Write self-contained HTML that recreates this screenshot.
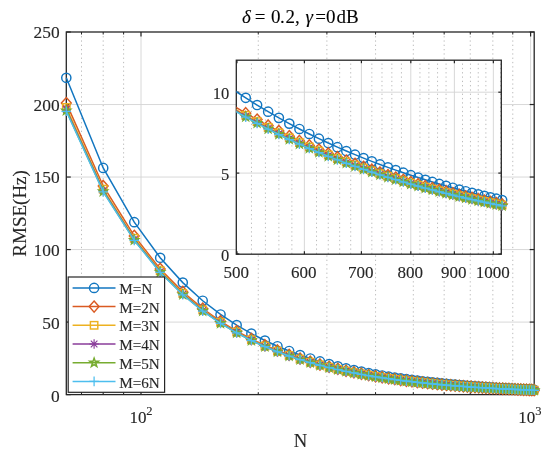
<!DOCTYPE html>
<html><head><meta charset="utf-8"><style>
html,body{margin:0;padding:0;background:#fff;width:550px;height:457px;overflow:hidden}
svg{display:block;filter:blur(0.45px)}
text{stroke:#262626;stroke-width:0.12px}
</style></head><body>
<svg width="550" height="457" viewBox="0 0 550 457">
<defs><clipPath id="cm"><rect x="0" y="0" width="550" height="457"/></clipPath>
<clipPath id="ci"><rect x="236.3" y="60.2" width="265.0" height="194.0"/></clipPath></defs>
<rect width="550" height="457" fill="#fff"/>
<line x1="81.5" y1="32" x2="81.5" y2="394.6" stroke="#b4b4b4" stroke-width="0.9" stroke-dasharray="1.3 3" stroke-dashoffset="0.2"/>
<line x1="103.2" y1="32" x2="103.2" y2="394.6" stroke="#b4b4b4" stroke-width="0.9" stroke-dasharray="1.3 3" stroke-dashoffset="0.2"/>
<line x1="123.6" y1="32" x2="123.6" y2="394.6" stroke="#b4b4b4" stroke-width="0.9" stroke-dasharray="1.3 3" stroke-dashoffset="0.2"/>
<line x1="258.28" y1="32" x2="258.28" y2="394.6" stroke="#b4b4b4" stroke-width="0.9" stroke-dasharray="1.3 3" stroke-dashoffset="0.2"/>
<line x1="326.89" y1="32" x2="326.89" y2="394.6" stroke="#b4b4b4" stroke-width="0.9" stroke-dasharray="1.3 3" stroke-dashoffset="0.2"/>
<line x1="375.56" y1="32" x2="375.56" y2="394.6" stroke="#b4b4b4" stroke-width="0.9" stroke-dasharray="1.3 3" stroke-dashoffset="0.2"/>
<line x1="413.32" y1="32" x2="413.32" y2="394.6" stroke="#b4b4b4" stroke-width="0.9" stroke-dasharray="1.3 3" stroke-dashoffset="0.2"/>
<line x1="444.17" y1="32" x2="444.17" y2="394.6" stroke="#b4b4b4" stroke-width="0.9" stroke-dasharray="1.3 3" stroke-dashoffset="0.2"/>
<line x1="470.25" y1="32" x2="470.25" y2="394.6" stroke="#b4b4b4" stroke-width="0.9" stroke-dasharray="1.3 3" stroke-dashoffset="0.2"/>
<line x1="492.84" y1="32" x2="492.84" y2="394.6" stroke="#b4b4b4" stroke-width="0.9" stroke-dasharray="1.3 3" stroke-dashoffset="0.2"/>
<line x1="512.77" y1="32" x2="512.77" y2="394.6" stroke="#b4b4b4" stroke-width="0.9" stroke-dasharray="1.3 3" stroke-dashoffset="0.2"/>
<line x1="141" y1="32" x2="141" y2="394.6" stroke="#d4d4d4" stroke-width="0.9"/>
<line x1="530.6" y1="32" x2="530.6" y2="394.6" stroke="#d4d4d4" stroke-width="0.9"/>
<line x1="66.3" y1="322.08" x2="534.2" y2="322.08" stroke="#d4d4d4" stroke-width="0.9"/>
<line x1="66.3" y1="249.56" x2="534.2" y2="249.56" stroke="#d4d4d4" stroke-width="0.9"/>
<line x1="66.3" y1="177.04" x2="534.2" y2="177.04" stroke="#d4d4d4" stroke-width="0.9"/>
<line x1="66.3" y1="104.52" x2="534.2" y2="104.52" stroke="#d4d4d4" stroke-width="0.9"/>
<rect x="66.3" y="32" width="467.9" height="362.6" fill="none" stroke="#262626" stroke-width="1.3"/>
<line x1="66.3" y1="394.6" x2="70.8" y2="394.6" stroke="#262626" stroke-width="1.2"/>
<line x1="534.2" y1="394.6" x2="529.7" y2="394.6" stroke="#262626" stroke-width="1.2"/>
<line x1="66.3" y1="322.08" x2="70.8" y2="322.08" stroke="#262626" stroke-width="1.2"/>
<line x1="534.2" y1="322.08" x2="529.7" y2="322.08" stroke="#262626" stroke-width="1.2"/>
<line x1="66.3" y1="249.56" x2="70.8" y2="249.56" stroke="#262626" stroke-width="1.2"/>
<line x1="534.2" y1="249.56" x2="529.7" y2="249.56" stroke="#262626" stroke-width="1.2"/>
<line x1="66.3" y1="177.04" x2="70.8" y2="177.04" stroke="#262626" stroke-width="1.2"/>
<line x1="534.2" y1="177.04" x2="529.7" y2="177.04" stroke="#262626" stroke-width="1.2"/>
<line x1="66.3" y1="104.52" x2="70.8" y2="104.52" stroke="#262626" stroke-width="1.2"/>
<line x1="534.2" y1="104.52" x2="529.7" y2="104.52" stroke="#262626" stroke-width="1.2"/>
<line x1="66.3" y1="32" x2="70.8" y2="32" stroke="#262626" stroke-width="1.2"/>
<line x1="534.2" y1="32" x2="529.7" y2="32" stroke="#262626" stroke-width="1.2"/>
<line x1="141" y1="394.6" x2="141" y2="390.1" stroke="#262626" stroke-width="1.2"/>
<line x1="141" y1="32" x2="141" y2="36.5" stroke="#262626" stroke-width="1.2"/>
<line x1="530.6" y1="394.6" x2="530.6" y2="390.1" stroke="#262626" stroke-width="1.2"/>
<line x1="530.6" y1="32" x2="530.6" y2="36.5" stroke="#262626" stroke-width="1.2"/>
<line x1="81.5" y1="394.6" x2="81.5" y2="392.1" stroke="#262626" stroke-width="1"/>
<line x1="81.5" y1="32" x2="81.5" y2="34.5" stroke="#262626" stroke-width="1"/>
<line x1="103.2" y1="394.6" x2="103.2" y2="392.1" stroke="#262626" stroke-width="1"/>
<line x1="103.2" y1="32" x2="103.2" y2="34.5" stroke="#262626" stroke-width="1"/>
<line x1="123.6" y1="394.6" x2="123.6" y2="392.1" stroke="#262626" stroke-width="1"/>
<line x1="123.6" y1="32" x2="123.6" y2="34.5" stroke="#262626" stroke-width="1"/>
<line x1="258.28" y1="394.6" x2="258.28" y2="392.1" stroke="#262626" stroke-width="1"/>
<line x1="258.28" y1="32" x2="258.28" y2="34.5" stroke="#262626" stroke-width="1"/>
<line x1="326.89" y1="394.6" x2="326.89" y2="392.1" stroke="#262626" stroke-width="1"/>
<line x1="326.89" y1="32" x2="326.89" y2="34.5" stroke="#262626" stroke-width="1"/>
<line x1="375.56" y1="394.6" x2="375.56" y2="392.1" stroke="#262626" stroke-width="1"/>
<line x1="375.56" y1="32" x2="375.56" y2="34.5" stroke="#262626" stroke-width="1"/>
<line x1="413.32" y1="394.6" x2="413.32" y2="392.1" stroke="#262626" stroke-width="1"/>
<line x1="413.32" y1="32" x2="413.32" y2="34.5" stroke="#262626" stroke-width="1"/>
<line x1="444.17" y1="394.6" x2="444.17" y2="392.1" stroke="#262626" stroke-width="1"/>
<line x1="444.17" y1="32" x2="444.17" y2="34.5" stroke="#262626" stroke-width="1"/>
<line x1="470.25" y1="394.6" x2="470.25" y2="392.1" stroke="#262626" stroke-width="1"/>
<line x1="470.25" y1="32" x2="470.25" y2="34.5" stroke="#262626" stroke-width="1"/>
<line x1="492.84" y1="394.6" x2="492.84" y2="392.1" stroke="#262626" stroke-width="1"/>
<line x1="492.84" y1="32" x2="492.84" y2="34.5" stroke="#262626" stroke-width="1"/>
<line x1="512.77" y1="394.6" x2="512.77" y2="392.1" stroke="#262626" stroke-width="1"/>
<line x1="512.77" y1="32" x2="512.77" y2="34.5" stroke="#262626" stroke-width="1"/>
<polyline points="66.3,77.83 103.2,167.94 134.26,222.17 160.18,257.77 182.77,282.61 202.7,300.74 220.53,314.46 236.65,325.14 251.37,333.64 264.92,340.54 277.46,346.22 289.13,350.98 300.05,355 310.31,358.45 319.98,361.42 329.13,364 337.81,366.27 346.06,368.27 353.93,370.04 361.45,371.63 368.66,373.05 375.56,374.33 382.2,375.49 388.58,376.54 394.74,377.5 400.68,378.37 406.41,379.18 411.96,379.92 417.33,380.6 422.54,381.25 427.59,381.84 432.49,382.4 437.26,382.91 441.9,383.39 446.41,383.84 450.8,384.26 455.09,384.65 459.27,385.02 463.34,385.37 467.32,385.7 471.21,386.01 475.02,386.3 478.74,386.57 482.37,386.83 485.94,387.08 489.43,387.31 492.84,387.53 496.19,387.75 499.48,387.95 502.7,388.14 505.87,388.32 508.97,388.49 512.02,388.66 515.01,388.82 517.96,388.97 520.85,389.12 523.69,389.26 526.49,389.39 529.24,389.52 531.81,389.64 534.2,389.76" fill="none" stroke="#1276C0" stroke-width="1.5"/>
<circle cx="66.3" cy="77.83" r="4.6" fill="none" stroke="#1276C0" stroke-width="1.45"/>
<circle cx="103.2" cy="167.94" r="4.6" fill="none" stroke="#1276C0" stroke-width="1.45"/>
<circle cx="134.26" cy="222.17" r="4.6" fill="none" stroke="#1276C0" stroke-width="1.45"/>
<circle cx="160.18" cy="257.77" r="4.6" fill="none" stroke="#1276C0" stroke-width="1.45"/>
<circle cx="182.77" cy="282.61" r="4.6" fill="none" stroke="#1276C0" stroke-width="1.45"/>
<circle cx="202.7" cy="300.74" r="4.6" fill="none" stroke="#1276C0" stroke-width="1.45"/>
<circle cx="220.53" cy="314.46" r="4.6" fill="none" stroke="#1276C0" stroke-width="1.45"/>
<circle cx="236.65" cy="325.14" r="4.6" fill="none" stroke="#1276C0" stroke-width="1.45"/>
<circle cx="251.37" cy="333.64" r="4.6" fill="none" stroke="#1276C0" stroke-width="1.45"/>
<circle cx="264.92" cy="340.54" r="4.6" fill="none" stroke="#1276C0" stroke-width="1.45"/>
<circle cx="277.46" cy="346.22" r="4.6" fill="none" stroke="#1276C0" stroke-width="1.45"/>
<circle cx="289.13" cy="350.98" r="4.6" fill="none" stroke="#1276C0" stroke-width="1.45"/>
<circle cx="300.05" cy="355" r="4.6" fill="none" stroke="#1276C0" stroke-width="1.45"/>
<circle cx="310.31" cy="358.45" r="4.6" fill="none" stroke="#1276C0" stroke-width="1.45"/>
<circle cx="319.98" cy="361.42" r="4.6" fill="none" stroke="#1276C0" stroke-width="1.45"/>
<circle cx="329.13" cy="364" r="4.6" fill="none" stroke="#1276C0" stroke-width="1.45"/>
<circle cx="337.81" cy="366.27" r="4.6" fill="none" stroke="#1276C0" stroke-width="1.45"/>
<circle cx="346.06" cy="368.27" r="4.6" fill="none" stroke="#1276C0" stroke-width="1.45"/>
<circle cx="353.93" cy="370.04" r="4.6" fill="none" stroke="#1276C0" stroke-width="1.45"/>
<circle cx="361.45" cy="371.63" r="4.6" fill="none" stroke="#1276C0" stroke-width="1.45"/>
<circle cx="368.66" cy="373.05" r="4.6" fill="none" stroke="#1276C0" stroke-width="1.45"/>
<circle cx="375.56" cy="374.33" r="4.6" fill="none" stroke="#1276C0" stroke-width="1.45"/>
<circle cx="382.2" cy="375.49" r="4.6" fill="none" stroke="#1276C0" stroke-width="1.45"/>
<circle cx="388.58" cy="376.54" r="4.6" fill="none" stroke="#1276C0" stroke-width="1.45"/>
<circle cx="394.74" cy="377.5" r="4.6" fill="none" stroke="#1276C0" stroke-width="1.45"/>
<circle cx="400.68" cy="378.37" r="4.6" fill="none" stroke="#1276C0" stroke-width="1.45"/>
<circle cx="406.41" cy="379.18" r="4.6" fill="none" stroke="#1276C0" stroke-width="1.45"/>
<circle cx="411.96" cy="379.92" r="4.6" fill="none" stroke="#1276C0" stroke-width="1.45"/>
<circle cx="417.33" cy="380.6" r="4.6" fill="none" stroke="#1276C0" stroke-width="1.45"/>
<circle cx="422.54" cy="381.25" r="4.6" fill="none" stroke="#1276C0" stroke-width="1.45"/>
<circle cx="427.59" cy="381.84" r="4.6" fill="none" stroke="#1276C0" stroke-width="1.45"/>
<circle cx="432.49" cy="382.4" r="4.6" fill="none" stroke="#1276C0" stroke-width="1.45"/>
<circle cx="437.26" cy="382.91" r="4.6" fill="none" stroke="#1276C0" stroke-width="1.45"/>
<circle cx="441.9" cy="383.39" r="4.6" fill="none" stroke="#1276C0" stroke-width="1.45"/>
<circle cx="446.41" cy="383.84" r="4.6" fill="none" stroke="#1276C0" stroke-width="1.45"/>
<circle cx="450.8" cy="384.26" r="4.6" fill="none" stroke="#1276C0" stroke-width="1.45"/>
<circle cx="455.09" cy="384.65" r="4.6" fill="none" stroke="#1276C0" stroke-width="1.45"/>
<circle cx="459.27" cy="385.02" r="4.6" fill="none" stroke="#1276C0" stroke-width="1.45"/>
<circle cx="463.34" cy="385.37" r="4.6" fill="none" stroke="#1276C0" stroke-width="1.45"/>
<circle cx="467.32" cy="385.7" r="4.6" fill="none" stroke="#1276C0" stroke-width="1.45"/>
<circle cx="471.21" cy="386.01" r="4.6" fill="none" stroke="#1276C0" stroke-width="1.45"/>
<circle cx="475.02" cy="386.3" r="4.6" fill="none" stroke="#1276C0" stroke-width="1.45"/>
<circle cx="478.74" cy="386.57" r="4.6" fill="none" stroke="#1276C0" stroke-width="1.45"/>
<circle cx="482.37" cy="386.83" r="4.6" fill="none" stroke="#1276C0" stroke-width="1.45"/>
<circle cx="485.94" cy="387.08" r="4.6" fill="none" stroke="#1276C0" stroke-width="1.45"/>
<circle cx="489.43" cy="387.31" r="4.6" fill="none" stroke="#1276C0" stroke-width="1.45"/>
<circle cx="492.84" cy="387.53" r="4.6" fill="none" stroke="#1276C0" stroke-width="1.45"/>
<circle cx="496.19" cy="387.75" r="4.6" fill="none" stroke="#1276C0" stroke-width="1.45"/>
<circle cx="499.48" cy="387.95" r="4.6" fill="none" stroke="#1276C0" stroke-width="1.45"/>
<circle cx="502.7" cy="388.14" r="4.6" fill="none" stroke="#1276C0" stroke-width="1.45"/>
<circle cx="505.87" cy="388.32" r="4.6" fill="none" stroke="#1276C0" stroke-width="1.45"/>
<circle cx="508.97" cy="388.49" r="4.6" fill="none" stroke="#1276C0" stroke-width="1.45"/>
<circle cx="512.02" cy="388.66" r="4.6" fill="none" stroke="#1276C0" stroke-width="1.45"/>
<circle cx="515.01" cy="388.82" r="4.6" fill="none" stroke="#1276C0" stroke-width="1.45"/>
<circle cx="517.96" cy="388.97" r="4.6" fill="none" stroke="#1276C0" stroke-width="1.45"/>
<circle cx="520.85" cy="389.12" r="4.6" fill="none" stroke="#1276C0" stroke-width="1.45"/>
<circle cx="523.69" cy="389.26" r="4.6" fill="none" stroke="#1276C0" stroke-width="1.45"/>
<circle cx="526.49" cy="389.39" r="4.6" fill="none" stroke="#1276C0" stroke-width="1.45"/>
<circle cx="529.24" cy="389.52" r="4.6" fill="none" stroke="#1276C0" stroke-width="1.45"/>
<circle cx="531.81" cy="389.64" r="4.6" fill="none" stroke="#1276C0" stroke-width="1.45"/>
<circle cx="534.2" cy="389.76" r="4.6" fill="none" stroke="#1276C0" stroke-width="1.45"/>
<polyline points="66.3,103.08 103.2,186.01 134.26,235.92 160.18,268.91 182.77,291.89 202.7,308.65 220.53,321.31 236.65,331.15 251.37,338.97 264.92,345.31 277.46,350.54 289.13,354.9 300.05,358.6 310.31,361.75 319.98,364.47 329.13,366.84 337.81,368.91 346.06,370.74 353.93,372.36 361.45,373.8 368.66,375.1 375.56,376.27 382.2,377.32 388.58,378.28 394.74,379.16 400.68,379.95 406.41,380.69 411.96,381.36 417.33,381.98 422.54,382.55 427.59,383.09 432.49,383.58 437.26,384.04 441.9,384.47 446.41,384.87 450.8,385.24 455.09,385.59 459.27,385.92 463.34,386.23 467.32,386.52 471.21,386.79 475.02,387.05 478.74,387.3 482.37,387.53 485.94,387.75 489.43,387.96 492.84,388.16 496.19,388.34 499.48,388.52 502.7,388.7 505.87,388.86 508.97,389.01 512.02,389.16 515.01,389.31 517.96,389.44 520.85,389.57 523.69,389.7 526.49,389.82 529.24,389.93 531.81,390.04 534.2,390.15" fill="none" stroke="#DA5A22" stroke-width="1.5"/>
<path d="M66.3 97.48L71.23 103.08L66.3 108.68L61.37 103.08Z" fill="none" stroke="#DA5A22" stroke-width="1.45"/>
<path d="M103.2 180.41L108.13 186.01L103.2 191.61L98.27 186.01Z" fill="none" stroke="#DA5A22" stroke-width="1.45"/>
<path d="M134.26 230.32L139.19 235.92L134.26 241.52L129.33 235.92Z" fill="none" stroke="#DA5A22" stroke-width="1.45"/>
<path d="M160.18 263.31L165.1 268.91L160.18 274.51L155.25 268.91Z" fill="none" stroke="#DA5A22" stroke-width="1.45"/>
<path d="M182.77 286.29L187.7 291.89L182.77 297.49L177.84 291.89Z" fill="none" stroke="#DA5A22" stroke-width="1.45"/>
<path d="M202.7 303.05L207.63 308.65L202.7 314.25L197.77 308.65Z" fill="none" stroke="#DA5A22" stroke-width="1.45"/>
<path d="M220.53 315.71L225.45 321.31L220.53 326.91L215.6 321.31Z" fill="none" stroke="#DA5A22" stroke-width="1.45"/>
<path d="M236.65 325.55L241.58 331.15L236.65 336.75L231.72 331.15Z" fill="none" stroke="#DA5A22" stroke-width="1.45"/>
<path d="M251.37 333.37L256.3 338.97L251.37 344.57L246.45 338.97Z" fill="none" stroke="#DA5A22" stroke-width="1.45"/>
<path d="M264.92 339.71L269.85 345.31L264.92 350.91L259.99 345.31Z" fill="none" stroke="#DA5A22" stroke-width="1.45"/>
<path d="M277.46 344.94L282.38 350.54L277.46 356.14L272.53 350.54Z" fill="none" stroke="#DA5A22" stroke-width="1.45"/>
<path d="M289.13 349.3L294.06 354.9L289.13 360.5L284.2 354.9Z" fill="none" stroke="#DA5A22" stroke-width="1.45"/>
<path d="M300.05 353L304.98 358.6L300.05 364.2L295.12 358.6Z" fill="none" stroke="#DA5A22" stroke-width="1.45"/>
<path d="M310.31 356.15L315.24 361.75L310.31 367.35L305.38 361.75Z" fill="none" stroke="#DA5A22" stroke-width="1.45"/>
<path d="M319.98 358.87L324.91 364.47L319.98 370.07L315.05 364.47Z" fill="none" stroke="#DA5A22" stroke-width="1.45"/>
<path d="M329.13 361.24L334.06 366.84L329.13 372.44L324.2 366.84Z" fill="none" stroke="#DA5A22" stroke-width="1.45"/>
<path d="M337.81 363.31L342.73 368.91L337.81 374.51L332.88 368.91Z" fill="none" stroke="#DA5A22" stroke-width="1.45"/>
<path d="M346.06 365.14L350.99 370.74L346.06 376.34L341.13 370.74Z" fill="none" stroke="#DA5A22" stroke-width="1.45"/>
<path d="M353.93 366.76L358.86 372.36L353.93 377.96L349.01 372.36Z" fill="none" stroke="#DA5A22" stroke-width="1.45"/>
<path d="M361.45 368.2L366.38 373.8L361.45 379.4L356.53 373.8Z" fill="none" stroke="#DA5A22" stroke-width="1.45"/>
<path d="M368.66 369.5L373.58 375.1L368.66 380.7L363.73 375.1Z" fill="none" stroke="#DA5A22" stroke-width="1.45"/>
<path d="M375.56 370.67L380.49 376.27L375.56 381.87L370.63 376.27Z" fill="none" stroke="#DA5A22" stroke-width="1.45"/>
<path d="M382.2 371.72L387.13 377.32L382.2 382.92L377.27 377.32Z" fill="none" stroke="#DA5A22" stroke-width="1.45"/>
<path d="M388.58 372.68L393.51 378.28L388.58 383.88L383.66 378.28Z" fill="none" stroke="#DA5A22" stroke-width="1.45"/>
<path d="M394.74 373.56L399.67 379.16L394.74 384.76L389.81 379.16Z" fill="none" stroke="#DA5A22" stroke-width="1.45"/>
<path d="M400.68 374.35L405.6 379.95L400.68 385.55L395.75 379.95Z" fill="none" stroke="#DA5A22" stroke-width="1.45"/>
<path d="M406.41 375.09L411.34 380.69L406.41 386.29L401.48 380.69Z" fill="none" stroke="#DA5A22" stroke-width="1.45"/>
<path d="M411.96 375.76L416.89 381.36L411.96 386.96L407.03 381.36Z" fill="none" stroke="#DA5A22" stroke-width="1.45"/>
<path d="M417.33 376.38L422.26 381.98L417.33 387.58L412.4 381.98Z" fill="none" stroke="#DA5A22" stroke-width="1.45"/>
<path d="M422.54 376.95L427.47 382.55L422.54 388.15L417.61 382.55Z" fill="none" stroke="#DA5A22" stroke-width="1.45"/>
<path d="M427.59 377.49L432.52 383.09L427.59 388.69L422.66 383.09Z" fill="none" stroke="#DA5A22" stroke-width="1.45"/>
<path d="M432.49 377.98L437.42 383.58L432.49 389.18L427.57 383.58Z" fill="none" stroke="#DA5A22" stroke-width="1.45"/>
<path d="M437.26 378.44L442.19 384.04L437.26 389.64L432.33 384.04Z" fill="none" stroke="#DA5A22" stroke-width="1.45"/>
<path d="M441.9 378.87L446.82 384.47L441.9 390.07L436.97 384.47Z" fill="none" stroke="#DA5A22" stroke-width="1.45"/>
<path d="M446.41 379.27L451.34 384.87L446.41 390.47L441.48 384.87Z" fill="none" stroke="#DA5A22" stroke-width="1.45"/>
<path d="M450.8 379.64L455.73 385.24L450.8 390.84L445.88 385.24Z" fill="none" stroke="#DA5A22" stroke-width="1.45"/>
<path d="M455.09 379.99L460.02 385.59L455.09 391.19L450.16 385.59Z" fill="none" stroke="#DA5A22" stroke-width="1.45"/>
<path d="M459.27 380.32L464.19 385.92L459.27 391.52L454.34 385.92Z" fill="none" stroke="#DA5A22" stroke-width="1.45"/>
<path d="M463.34 380.63L468.27 386.23L463.34 391.83L458.42 386.23Z" fill="none" stroke="#DA5A22" stroke-width="1.45"/>
<path d="M467.32 380.92L472.25 386.52L467.32 392.12L462.4 386.52Z" fill="none" stroke="#DA5A22" stroke-width="1.45"/>
<path d="M471.21 381.19L476.14 386.79L471.21 392.39L466.29 386.79Z" fill="none" stroke="#DA5A22" stroke-width="1.45"/>
<path d="M475.02 381.45L479.94 387.05L475.02 392.65L470.09 387.05Z" fill="none" stroke="#DA5A22" stroke-width="1.45"/>
<path d="M478.74 381.7L483.66 387.3L478.74 392.9L473.81 387.3Z" fill="none" stroke="#DA5A22" stroke-width="1.45"/>
<path d="M482.37 381.93L487.3 387.53L482.37 393.13L477.45 387.53Z" fill="none" stroke="#DA5A22" stroke-width="1.45"/>
<path d="M485.94 382.15L490.86 387.75L485.94 393.35L481.01 387.75Z" fill="none" stroke="#DA5A22" stroke-width="1.45"/>
<path d="M489.43 382.36L494.35 387.96L489.43 393.56L484.5 387.96Z" fill="none" stroke="#DA5A22" stroke-width="1.45"/>
<path d="M492.84 382.56L497.77 388.16L492.84 393.76L487.92 388.16Z" fill="none" stroke="#DA5A22" stroke-width="1.45"/>
<path d="M496.19 382.74L501.12 388.34L496.19 393.94L491.27 388.34Z" fill="none" stroke="#DA5A22" stroke-width="1.45"/>
<path d="M499.48 382.92L504.41 388.52L499.48 394.12L494.55 388.52Z" fill="none" stroke="#DA5A22" stroke-width="1.45"/>
<path d="M502.7 383.1L507.63 388.7L502.7 394.3L497.78 388.7Z" fill="none" stroke="#DA5A22" stroke-width="1.45"/>
<path d="M505.87 383.26L510.79 388.86L505.87 394.46L500.94 388.86Z" fill="none" stroke="#DA5A22" stroke-width="1.45"/>
<path d="M508.97 383.41L513.9 389.01L508.97 394.61L504.04 389.01Z" fill="none" stroke="#DA5A22" stroke-width="1.45"/>
<path d="M512.02 383.56L516.95 389.16L512.02 394.76L507.09 389.16Z" fill="none" stroke="#DA5A22" stroke-width="1.45"/>
<path d="M515.01 383.71L519.94 389.31L515.01 394.91L510.09 389.31Z" fill="none" stroke="#DA5A22" stroke-width="1.45"/>
<path d="M517.96 383.84L522.88 389.44L517.96 395.04L513.03 389.44Z" fill="none" stroke="#DA5A22" stroke-width="1.45"/>
<path d="M520.85 383.97L525.78 389.57L520.85 395.17L515.92 389.57Z" fill="none" stroke="#DA5A22" stroke-width="1.45"/>
<path d="M523.69 384.1L528.62 389.7L523.69 395.3L518.76 389.7Z" fill="none" stroke="#DA5A22" stroke-width="1.45"/>
<path d="M526.49 384.22L531.42 389.82L526.49 395.42L521.56 389.82Z" fill="none" stroke="#DA5A22" stroke-width="1.45"/>
<path d="M529.24 384.33L534.17 389.93L529.24 395.53L524.31 389.93Z" fill="none" stroke="#DA5A22" stroke-width="1.45"/>
<path d="M531.81 384.44L536.74 390.04L531.81 395.64L526.88 390.04Z" fill="none" stroke="#DA5A22" stroke-width="1.45"/>
<path d="M534.2 384.55L539.13 390.15L534.2 395.75L529.27 390.15Z" fill="none" stroke="#DA5A22" stroke-width="1.45"/>
<polyline points="66.3,107.41 103.2,189.11 134.26,238.28 160.18,270.78 182.77,293.42 202.7,309.93 220.53,322.4 236.65,332.09 251.37,339.8 264.92,346.05 277.46,351.19 289.13,355.49 300.05,359.13 310.31,362.24 319.98,364.92 329.13,367.25 337.81,369.29 346.06,371.09 353.93,372.69 361.45,374.11 368.66,375.39 375.56,376.54 382.2,377.58 388.58,378.52 394.74,379.38 400.68,380.17 406.41,380.89 411.96,381.56 417.33,382.17 422.54,382.73 427.59,383.26 432.49,383.74 437.26,384.2 441.9,384.62 446.41,385.01 450.8,385.38 455.09,385.73 459.27,386.05 463.34,386.35 467.32,386.64 471.21,386.91 475.02,387.17 478.74,387.41 482.37,387.63 485.94,387.85 489.43,388.06 492.84,388.25 496.19,388.44 499.48,388.61 502.7,388.78 505.87,388.94 508.97,389.1 512.02,389.24 515.01,389.38 517.96,389.52 520.85,389.65 523.69,389.77 526.49,389.89 529.24,390 531.81,390.11 534.2,390.22" fill="none" stroke="#EDB120" stroke-width="1.5"/>
<rect x="62.6" y="103.71" width="7.4" height="7.4" fill="none" stroke="#EDB120" stroke-width="1.45"/>
<rect x="99.5" y="185.41" width="7.4" height="7.4" fill="none" stroke="#EDB120" stroke-width="1.45"/>
<rect x="130.56" y="234.58" width="7.4" height="7.4" fill="none" stroke="#EDB120" stroke-width="1.45"/>
<rect x="156.48" y="267.08" width="7.4" height="7.4" fill="none" stroke="#EDB120" stroke-width="1.45"/>
<rect x="179.07" y="289.72" width="7.4" height="7.4" fill="none" stroke="#EDB120" stroke-width="1.45"/>
<rect x="199" y="306.23" width="7.4" height="7.4" fill="none" stroke="#EDB120" stroke-width="1.45"/>
<rect x="216.83" y="318.7" width="7.4" height="7.4" fill="none" stroke="#EDB120" stroke-width="1.45"/>
<rect x="232.95" y="328.39" width="7.4" height="7.4" fill="none" stroke="#EDB120" stroke-width="1.45"/>
<rect x="247.67" y="336.1" width="7.4" height="7.4" fill="none" stroke="#EDB120" stroke-width="1.45"/>
<rect x="261.22" y="342.35" width="7.4" height="7.4" fill="none" stroke="#EDB120" stroke-width="1.45"/>
<rect x="273.76" y="347.49" width="7.4" height="7.4" fill="none" stroke="#EDB120" stroke-width="1.45"/>
<rect x="285.43" y="351.79" width="7.4" height="7.4" fill="none" stroke="#EDB120" stroke-width="1.45"/>
<rect x="296.35" y="355.43" width="7.4" height="7.4" fill="none" stroke="#EDB120" stroke-width="1.45"/>
<rect x="306.61" y="358.54" width="7.4" height="7.4" fill="none" stroke="#EDB120" stroke-width="1.45"/>
<rect x="316.28" y="361.22" width="7.4" height="7.4" fill="none" stroke="#EDB120" stroke-width="1.45"/>
<rect x="325.43" y="363.55" width="7.4" height="7.4" fill="none" stroke="#EDB120" stroke-width="1.45"/>
<rect x="334.11" y="365.59" width="7.4" height="7.4" fill="none" stroke="#EDB120" stroke-width="1.45"/>
<rect x="342.36" y="367.39" width="7.4" height="7.4" fill="none" stroke="#EDB120" stroke-width="1.45"/>
<rect x="350.23" y="368.99" width="7.4" height="7.4" fill="none" stroke="#EDB120" stroke-width="1.45"/>
<rect x="357.75" y="370.41" width="7.4" height="7.4" fill="none" stroke="#EDB120" stroke-width="1.45"/>
<rect x="364.96" y="371.69" width="7.4" height="7.4" fill="none" stroke="#EDB120" stroke-width="1.45"/>
<rect x="371.86" y="372.84" width="7.4" height="7.4" fill="none" stroke="#EDB120" stroke-width="1.45"/>
<rect x="378.5" y="373.88" width="7.4" height="7.4" fill="none" stroke="#EDB120" stroke-width="1.45"/>
<rect x="384.88" y="374.82" width="7.4" height="7.4" fill="none" stroke="#EDB120" stroke-width="1.45"/>
<rect x="391.04" y="375.68" width="7.4" height="7.4" fill="none" stroke="#EDB120" stroke-width="1.45"/>
<rect x="396.98" y="376.47" width="7.4" height="7.4" fill="none" stroke="#EDB120" stroke-width="1.45"/>
<rect x="402.71" y="377.19" width="7.4" height="7.4" fill="none" stroke="#EDB120" stroke-width="1.45"/>
<rect x="408.26" y="377.86" width="7.4" height="7.4" fill="none" stroke="#EDB120" stroke-width="1.45"/>
<rect x="413.63" y="378.47" width="7.4" height="7.4" fill="none" stroke="#EDB120" stroke-width="1.45"/>
<rect x="418.84" y="379.03" width="7.4" height="7.4" fill="none" stroke="#EDB120" stroke-width="1.45"/>
<rect x="423.89" y="379.56" width="7.4" height="7.4" fill="none" stroke="#EDB120" stroke-width="1.45"/>
<rect x="428.79" y="380.04" width="7.4" height="7.4" fill="none" stroke="#EDB120" stroke-width="1.45"/>
<rect x="433.56" y="380.5" width="7.4" height="7.4" fill="none" stroke="#EDB120" stroke-width="1.45"/>
<rect x="438.2" y="380.92" width="7.4" height="7.4" fill="none" stroke="#EDB120" stroke-width="1.45"/>
<rect x="442.71" y="381.31" width="7.4" height="7.4" fill="none" stroke="#EDB120" stroke-width="1.45"/>
<rect x="447.1" y="381.68" width="7.4" height="7.4" fill="none" stroke="#EDB120" stroke-width="1.45"/>
<rect x="451.39" y="382.03" width="7.4" height="7.4" fill="none" stroke="#EDB120" stroke-width="1.45"/>
<rect x="455.57" y="382.35" width="7.4" height="7.4" fill="none" stroke="#EDB120" stroke-width="1.45"/>
<rect x="459.64" y="382.65" width="7.4" height="7.4" fill="none" stroke="#EDB120" stroke-width="1.45"/>
<rect x="463.62" y="382.94" width="7.4" height="7.4" fill="none" stroke="#EDB120" stroke-width="1.45"/>
<rect x="467.51" y="383.21" width="7.4" height="7.4" fill="none" stroke="#EDB120" stroke-width="1.45"/>
<rect x="471.32" y="383.47" width="7.4" height="7.4" fill="none" stroke="#EDB120" stroke-width="1.45"/>
<rect x="475.04" y="383.71" width="7.4" height="7.4" fill="none" stroke="#EDB120" stroke-width="1.45"/>
<rect x="478.67" y="383.93" width="7.4" height="7.4" fill="none" stroke="#EDB120" stroke-width="1.45"/>
<rect x="482.24" y="384.15" width="7.4" height="7.4" fill="none" stroke="#EDB120" stroke-width="1.45"/>
<rect x="485.73" y="384.36" width="7.4" height="7.4" fill="none" stroke="#EDB120" stroke-width="1.45"/>
<rect x="489.14" y="384.55" width="7.4" height="7.4" fill="none" stroke="#EDB120" stroke-width="1.45"/>
<rect x="492.49" y="384.74" width="7.4" height="7.4" fill="none" stroke="#EDB120" stroke-width="1.45"/>
<rect x="495.78" y="384.91" width="7.4" height="7.4" fill="none" stroke="#EDB120" stroke-width="1.45"/>
<rect x="499" y="385.08" width="7.4" height="7.4" fill="none" stroke="#EDB120" stroke-width="1.45"/>
<rect x="502.17" y="385.24" width="7.4" height="7.4" fill="none" stroke="#EDB120" stroke-width="1.45"/>
<rect x="505.27" y="385.4" width="7.4" height="7.4" fill="none" stroke="#EDB120" stroke-width="1.45"/>
<rect x="508.32" y="385.54" width="7.4" height="7.4" fill="none" stroke="#EDB120" stroke-width="1.45"/>
<rect x="511.31" y="385.68" width="7.4" height="7.4" fill="none" stroke="#EDB120" stroke-width="1.45"/>
<rect x="514.26" y="385.82" width="7.4" height="7.4" fill="none" stroke="#EDB120" stroke-width="1.45"/>
<rect x="517.15" y="385.95" width="7.4" height="7.4" fill="none" stroke="#EDB120" stroke-width="1.45"/>
<rect x="519.99" y="386.07" width="7.4" height="7.4" fill="none" stroke="#EDB120" stroke-width="1.45"/>
<rect x="522.79" y="386.19" width="7.4" height="7.4" fill="none" stroke="#EDB120" stroke-width="1.45"/>
<rect x="525.54" y="386.3" width="7.4" height="7.4" fill="none" stroke="#EDB120" stroke-width="1.45"/>
<rect x="528.11" y="386.41" width="7.4" height="7.4" fill="none" stroke="#EDB120" stroke-width="1.45"/>
<rect x="530.5" y="386.52" width="7.4" height="7.4" fill="none" stroke="#EDB120" stroke-width="1.45"/>
<polyline points="66.3,109.58 103.2,190.66 134.26,239.45 160.18,271.71 182.77,294.18 202.7,310.57 220.53,322.94 236.65,332.56 251.37,340.21 264.92,346.41 277.46,351.52 289.13,355.79 300.05,359.4 310.31,362.48 319.98,365.14 329.13,367.45 337.81,369.48 346.06,371.27 353.93,372.85 361.45,374.27 368.66,375.53 375.56,376.68 382.2,377.71 388.58,378.65 394.74,379.5 400.68,380.28 406.41,381 411.96,381.65 417.33,382.26 422.54,382.82 427.59,383.34 432.49,383.82 437.26,384.27 441.9,384.69 446.41,385.08 450.8,385.45 455.09,385.8 459.27,386.12 463.34,386.42 467.32,386.7 471.21,386.97 475.02,387.22 478.74,387.46 482.37,387.69 485.94,387.9 489.43,388.11 492.84,388.3 496.19,388.48 499.48,388.66 502.7,388.83 505.87,388.99 508.97,389.14 512.02,389.28 515.01,389.42 517.96,389.56 520.85,389.68 523.69,389.81 526.49,389.92 529.24,390.04 531.81,390.15 534.2,390.25" fill="none" stroke="#8A3D9A" stroke-width="1.5"/>
<path d="M61.6 109.58L71 109.58M66.3 104.88L66.3 114.28M63 106.28L69.6 112.88M63 112.88L69.6 106.28" stroke="#8A3D9A" stroke-width="1.15" fill="none"/>
<path d="M98.5 190.66L107.9 190.66M103.2 185.96L103.2 195.36M99.9 187.36L106.5 193.96M99.9 193.96L106.5 187.36" stroke="#8A3D9A" stroke-width="1.15" fill="none"/>
<path d="M129.56 239.45L138.96 239.45M134.26 234.75L134.26 244.15M130.96 236.15L137.56 242.75M130.96 242.75L137.56 236.15" stroke="#8A3D9A" stroke-width="1.15" fill="none"/>
<path d="M155.48 271.71L164.88 271.71M160.18 267.01L160.18 276.41M156.88 268.41L163.48 275.01M156.88 275.01L163.48 268.41" stroke="#8A3D9A" stroke-width="1.15" fill="none"/>
<path d="M178.07 294.18L187.47 294.18M182.77 289.48L182.77 298.88M179.47 290.88L186.07 297.48M179.47 297.48L186.07 290.88" stroke="#8A3D9A" stroke-width="1.15" fill="none"/>
<path d="M198 310.57L207.4 310.57M202.7 305.87L202.7 315.27M199.4 307.27L206 313.87M199.4 313.87L206 307.27" stroke="#8A3D9A" stroke-width="1.15" fill="none"/>
<path d="M215.83 322.94L225.23 322.94M220.53 318.24L220.53 327.64M217.23 319.64L223.83 326.24M217.23 326.24L223.83 319.64" stroke="#8A3D9A" stroke-width="1.15" fill="none"/>
<path d="M231.95 332.56L241.35 332.56M236.65 327.86L236.65 337.26M233.35 329.26L239.95 335.86M233.35 335.86L239.95 329.26" stroke="#8A3D9A" stroke-width="1.15" fill="none"/>
<path d="M246.67 340.21L256.07 340.21M251.37 335.51L251.37 344.91M248.07 336.91L254.67 343.51M248.07 343.51L254.67 336.91" stroke="#8A3D9A" stroke-width="1.15" fill="none"/>
<path d="M260.22 346.41L269.62 346.41M264.92 341.71L264.92 351.11M261.62 343.11L268.22 349.71M261.62 349.71L268.22 343.11" stroke="#8A3D9A" stroke-width="1.15" fill="none"/>
<path d="M272.76 351.52L282.16 351.52M277.46 346.82L277.46 356.22M274.16 348.22L280.76 354.82M274.16 354.82L280.76 348.22" stroke="#8A3D9A" stroke-width="1.15" fill="none"/>
<path d="M284.43 355.79L293.83 355.79M289.13 351.09L289.13 360.49M285.83 352.49L292.43 359.09M285.83 359.09L292.43 352.49" stroke="#8A3D9A" stroke-width="1.15" fill="none"/>
<path d="M295.35 359.4L304.75 359.4M300.05 354.7L300.05 364.1M296.75 356.1L303.35 362.7M296.75 362.7L303.35 356.1" stroke="#8A3D9A" stroke-width="1.15" fill="none"/>
<path d="M305.61 362.48L315.01 362.48M310.31 357.78L310.31 367.18M307.01 359.18L313.61 365.78M307.01 365.78L313.61 359.18" stroke="#8A3D9A" stroke-width="1.15" fill="none"/>
<path d="M315.28 365.14L324.68 365.14M319.98 360.44L319.98 369.84M316.68 361.84L323.28 368.44M316.68 368.44L323.28 361.84" stroke="#8A3D9A" stroke-width="1.15" fill="none"/>
<path d="M324.43 367.45L333.83 367.45M329.13 362.75L329.13 372.15M325.83 364.15L332.43 370.75M325.83 370.75L332.43 364.15" stroke="#8A3D9A" stroke-width="1.15" fill="none"/>
<path d="M333.11 369.48L342.51 369.48M337.81 364.78L337.81 374.18M334.51 366.18L341.11 372.78M334.51 372.78L341.11 366.18" stroke="#8A3D9A" stroke-width="1.15" fill="none"/>
<path d="M341.36 371.27L350.76 371.27M346.06 366.57L346.06 375.97M342.76 367.97L349.36 374.57M342.76 374.57L349.36 367.97" stroke="#8A3D9A" stroke-width="1.15" fill="none"/>
<path d="M349.23 372.85L358.63 372.85M353.93 368.15L353.93 377.55M350.63 369.55L357.23 376.15M350.63 376.15L357.23 369.55" stroke="#8A3D9A" stroke-width="1.15" fill="none"/>
<path d="M356.75 374.27L366.15 374.27M361.45 369.57L361.45 378.97M358.15 370.97L364.75 377.57M358.15 377.57L364.75 370.97" stroke="#8A3D9A" stroke-width="1.15" fill="none"/>
<path d="M363.96 375.53L373.36 375.53M368.66 370.83L368.66 380.23M365.36 372.23L371.96 378.83M365.36 378.83L371.96 372.23" stroke="#8A3D9A" stroke-width="1.15" fill="none"/>
<path d="M370.86 376.68L380.26 376.68M375.56 371.98L375.56 381.38M372.26 373.38L378.86 379.98M372.26 379.98L378.86 373.38" stroke="#8A3D9A" stroke-width="1.15" fill="none"/>
<path d="M377.5 377.71L386.9 377.71M382.2 373.01L382.2 382.41M378.9 374.41L385.5 381.01M378.9 381.01L385.5 374.41" stroke="#8A3D9A" stroke-width="1.15" fill="none"/>
<path d="M383.88 378.65L393.28 378.65M388.58 373.95L388.58 383.35M385.28 375.35L391.88 381.95M385.28 381.95L391.88 375.35" stroke="#8A3D9A" stroke-width="1.15" fill="none"/>
<path d="M390.04 379.5L399.44 379.5M394.74 374.8L394.74 384.2M391.44 376.2L398.04 382.8M391.44 382.8L398.04 376.2" stroke="#8A3D9A" stroke-width="1.15" fill="none"/>
<path d="M395.98 380.28L405.38 380.28M400.68 375.58L400.68 384.98M397.38 376.98L403.98 383.58M397.38 383.58L403.98 376.98" stroke="#8A3D9A" stroke-width="1.15" fill="none"/>
<path d="M401.71 381L411.11 381M406.41 376.3L406.41 385.7M403.11 377.7L409.71 384.3M403.11 384.3L409.71 377.7" stroke="#8A3D9A" stroke-width="1.15" fill="none"/>
<path d="M407.26 381.65L416.66 381.65M411.96 376.95L411.96 386.35M408.66 378.35L415.26 384.95M408.66 384.95L415.26 378.35" stroke="#8A3D9A" stroke-width="1.15" fill="none"/>
<path d="M412.63 382.26L422.03 382.26M417.33 377.56L417.33 386.96M414.03 378.96L420.63 385.56M414.03 385.56L420.63 378.96" stroke="#8A3D9A" stroke-width="1.15" fill="none"/>
<path d="M417.84 382.82L427.24 382.82M422.54 378.12L422.54 387.52M419.24 379.52L425.84 386.12M419.24 386.12L425.84 379.52" stroke="#8A3D9A" stroke-width="1.15" fill="none"/>
<path d="M422.89 383.34L432.29 383.34M427.59 378.64L427.59 388.04M424.29 380.04L430.89 386.64M424.29 386.64L430.89 380.04" stroke="#8A3D9A" stroke-width="1.15" fill="none"/>
<path d="M427.79 383.82L437.19 383.82M432.49 379.12L432.49 388.52M429.19 380.52L435.79 387.12M429.19 387.12L435.79 380.52" stroke="#8A3D9A" stroke-width="1.15" fill="none"/>
<path d="M432.56 384.27L441.96 384.27M437.26 379.57L437.26 388.97M433.96 380.97L440.56 387.57M433.96 387.57L440.56 380.97" stroke="#8A3D9A" stroke-width="1.15" fill="none"/>
<path d="M437.2 384.69L446.6 384.69M441.9 379.99L441.9 389.39M438.6 381.39L445.2 387.99M438.6 387.99L445.2 381.39" stroke="#8A3D9A" stroke-width="1.15" fill="none"/>
<path d="M441.71 385.08L451.11 385.08M446.41 380.38L446.41 389.78M443.11 381.78L449.71 388.38M443.11 388.38L449.71 381.78" stroke="#8A3D9A" stroke-width="1.15" fill="none"/>
<path d="M446.1 385.45L455.5 385.45M450.8 380.75L450.8 390.15M447.5 382.15L454.1 388.75M447.5 388.75L454.1 382.15" stroke="#8A3D9A" stroke-width="1.15" fill="none"/>
<path d="M450.39 385.8L459.79 385.8M455.09 381.1L455.09 390.5M451.79 382.5L458.39 389.1M451.79 389.1L458.39 382.5" stroke="#8A3D9A" stroke-width="1.15" fill="none"/>
<path d="M454.57 386.12L463.97 386.12M459.27 381.42L459.27 390.82M455.97 382.82L462.57 389.42M455.97 389.42L462.57 382.82" stroke="#8A3D9A" stroke-width="1.15" fill="none"/>
<path d="M458.64 386.42L468.04 386.42M463.34 381.72L463.34 391.12M460.04 383.12L466.64 389.72M460.04 389.72L466.64 383.12" stroke="#8A3D9A" stroke-width="1.15" fill="none"/>
<path d="M462.62 386.7L472.02 386.7M467.32 382L467.32 391.4M464.02 383.4L470.62 390M464.02 390L470.62 383.4" stroke="#8A3D9A" stroke-width="1.15" fill="none"/>
<path d="M466.51 386.97L475.91 386.97M471.21 382.27L471.21 391.67M467.91 383.67L474.51 390.27M467.91 390.27L474.51 383.67" stroke="#8A3D9A" stroke-width="1.15" fill="none"/>
<path d="M470.32 387.22L479.72 387.22M475.02 382.52L475.02 391.92M471.72 383.92L478.32 390.52M471.72 390.52L478.32 383.92" stroke="#8A3D9A" stroke-width="1.15" fill="none"/>
<path d="M474.04 387.46L483.44 387.46M478.74 382.76L478.74 392.16M475.44 384.16L482.04 390.76M475.44 390.76L482.04 384.16" stroke="#8A3D9A" stroke-width="1.15" fill="none"/>
<path d="M477.67 387.69L487.07 387.69M482.37 382.99L482.37 392.39M479.07 384.39L485.67 390.99M479.07 390.99L485.67 384.39" stroke="#8A3D9A" stroke-width="1.15" fill="none"/>
<path d="M481.24 387.9L490.64 387.9M485.94 383.2L485.94 392.6M482.64 384.6L489.24 391.2M482.64 391.2L489.24 384.6" stroke="#8A3D9A" stroke-width="1.15" fill="none"/>
<path d="M484.73 388.11L494.13 388.11M489.43 383.41L489.43 392.81M486.13 384.81L492.73 391.41M486.13 391.41L492.73 384.81" stroke="#8A3D9A" stroke-width="1.15" fill="none"/>
<path d="M488.14 388.3L497.54 388.3M492.84 383.6L492.84 393M489.54 385L496.14 391.6M489.54 391.6L496.14 385" stroke="#8A3D9A" stroke-width="1.15" fill="none"/>
<path d="M491.49 388.48L500.89 388.48M496.19 383.78L496.19 393.18M492.89 385.18L499.49 391.78M492.89 391.78L499.49 385.18" stroke="#8A3D9A" stroke-width="1.15" fill="none"/>
<path d="M494.78 388.66L504.18 388.66M499.48 383.96L499.48 393.36M496.18 385.36L502.78 391.96M496.18 391.96L502.78 385.36" stroke="#8A3D9A" stroke-width="1.15" fill="none"/>
<path d="M498 388.83L507.4 388.83M502.7 384.13L502.7 393.53M499.4 385.53L506 392.13M499.4 392.13L506 385.53" stroke="#8A3D9A" stroke-width="1.15" fill="none"/>
<path d="M501.17 388.99L510.57 388.99M505.87 384.29L505.87 393.69M502.57 385.69L509.17 392.29M502.57 392.29L509.17 385.69" stroke="#8A3D9A" stroke-width="1.15" fill="none"/>
<path d="M504.27 389.14L513.67 389.14M508.97 384.44L508.97 393.84M505.67 385.84L512.27 392.44M505.67 392.44L512.27 385.84" stroke="#8A3D9A" stroke-width="1.15" fill="none"/>
<path d="M507.32 389.28L516.72 389.28M512.02 384.58L512.02 393.98M508.72 385.98L515.32 392.58M508.72 392.58L515.32 385.98" stroke="#8A3D9A" stroke-width="1.15" fill="none"/>
<path d="M510.31 389.42L519.71 389.42M515.01 384.72L515.01 394.12M511.71 386.12L518.31 392.72M511.71 392.72L518.31 386.12" stroke="#8A3D9A" stroke-width="1.15" fill="none"/>
<path d="M513.26 389.56L522.66 389.56M517.96 384.86L517.96 394.26M514.66 386.26L521.26 392.86M514.66 392.86L521.26 386.26" stroke="#8A3D9A" stroke-width="1.15" fill="none"/>
<path d="M516.15 389.68L525.55 389.68M520.85 384.98L520.85 394.38M517.55 386.38L524.15 392.98M517.55 392.98L524.15 386.38" stroke="#8A3D9A" stroke-width="1.15" fill="none"/>
<path d="M518.99 389.81L528.39 389.81M523.69 385.11L523.69 394.51M520.39 386.51L526.99 393.11M520.39 393.11L526.99 386.51" stroke="#8A3D9A" stroke-width="1.15" fill="none"/>
<path d="M521.79 389.92L531.19 389.92M526.49 385.22L526.49 394.62M523.19 386.62L529.79 393.22M523.19 393.22L529.79 386.62" stroke="#8A3D9A" stroke-width="1.15" fill="none"/>
<path d="M524.54 390.04L533.94 390.04M529.24 385.34L529.24 394.74M525.94 386.74L532.54 393.34M525.94 393.34L532.54 386.74" stroke="#8A3D9A" stroke-width="1.15" fill="none"/>
<path d="M527.11 390.15L536.51 390.15M531.81 385.45L531.81 394.85M528.51 386.85L535.11 393.45M528.51 393.45L535.11 386.85" stroke="#8A3D9A" stroke-width="1.15" fill="none"/>
<path d="M529.5 390.25L538.9 390.25M534.2 385.55L534.2 394.95M530.9 386.95L537.5 393.55M530.9 393.55L537.5 386.95" stroke="#8A3D9A" stroke-width="1.15" fill="none"/>
<polyline points="66.3,110.59 103.2,191.38 134.26,240 160.18,272.15 182.77,294.54 202.7,310.86 220.53,323.2 236.65,332.78 251.37,340.4 264.92,346.58 277.46,351.67 289.13,355.93 300.05,359.52 310.31,362.6 319.98,365.25 329.13,367.55 337.81,369.57 346.06,371.35 353.93,372.93 361.45,374.34 368.66,375.6 375.56,376.74 382.2,377.77 388.58,378.7 394.74,379.55 400.68,380.33 406.41,381.04 411.96,381.7 417.33,382.3 422.54,382.86 427.59,383.38 432.49,383.86 437.26,384.31 441.9,384.73 446.41,385.12 450.8,385.48 455.09,385.83 459.27,386.15 463.34,386.45 467.32,386.73 471.21,387 475.02,387.25 478.74,387.49 482.37,387.71 485.94,387.93 489.43,388.13 492.84,388.32 496.19,388.51 499.48,388.68 502.7,388.85 505.87,389.01 508.97,389.16 512.02,389.3 515.01,389.44 517.96,389.58 520.85,389.7 523.69,389.82 526.49,389.94 529.24,390.05 531.81,390.16 534.2,390.26" fill="none" stroke="#77AC30" stroke-width="1.5"/>
<polygon points="66.3,105.99 67.38,109.1 70.67,109.17 68.05,111.16 69,114.31 66.3,112.43 63.6,114.31 64.55,111.16 61.93,109.17 65.22,109.1" fill="none" stroke="#77AC30" stroke-width="1.45"/>
<polygon points="103.2,186.78 104.28,189.89 107.57,189.96 104.95,191.95 105.9,195.1 103.2,193.22 100.5,195.1 101.45,191.95 98.83,189.96 102.12,189.89" fill="none" stroke="#77AC30" stroke-width="1.45"/>
<polygon points="134.26,235.4 135.34,238.52 138.63,238.58 136.01,240.57 136.96,243.73 134.26,241.84 131.55,243.73 132.51,240.57 129.88,238.58 133.18,238.52" fill="none" stroke="#77AC30" stroke-width="1.45"/>
<polygon points="160.18,267.55 161.26,270.66 164.55,270.73 161.93,272.72 162.88,275.87 160.18,273.99 157.47,275.87 158.43,272.72 155.8,270.73 159.09,270.66" fill="none" stroke="#77AC30" stroke-width="1.45"/>
<polygon points="182.77,289.94 183.85,293.05 187.14,293.12 184.52,295.11 185.47,298.26 182.77,296.38 180.07,298.26 181.02,295.11 178.39,293.12 181.69,293.05" fill="none" stroke="#77AC30" stroke-width="1.45"/>
<polygon points="202.7,306.26 203.78,309.38 207.07,309.44 204.45,311.43 205.4,314.59 202.7,312.7 199.99,314.59 200.95,311.43 198.32,309.44 201.62,309.38" fill="none" stroke="#77AC30" stroke-width="1.45"/>
<polygon points="220.53,318.6 221.61,321.71 224.9,321.78 222.28,323.77 223.23,326.92 220.53,325.04 217.82,326.92 218.78,323.77 216.15,321.78 219.44,321.71" fill="none" stroke="#77AC30" stroke-width="1.45"/>
<polygon points="236.65,328.18 237.73,331.29 241.03,331.36 238.4,333.35 239.36,336.5 236.65,334.62 233.95,336.5 234.9,333.35 232.28,331.36 235.57,331.29" fill="none" stroke="#77AC30" stroke-width="1.45"/>
<polygon points="251.37,335.8 252.46,338.91 255.75,338.98 253.12,340.97 254.08,344.13 251.37,342.24 248.67,344.13 249.62,340.97 247,338.98 250.29,338.91" fill="none" stroke="#77AC30" stroke-width="1.45"/>
<polygon points="264.92,341.98 266,345.09 269.29,345.16 266.67,347.15 267.62,350.3 264.92,348.42 262.21,350.3 263.17,347.15 260.54,345.16 263.84,345.09" fill="none" stroke="#77AC30" stroke-width="1.45"/>
<polygon points="277.46,347.07 278.54,350.18 281.83,350.25 279.21,352.24 280.16,355.39 277.46,353.51 274.75,355.39 275.71,352.24 273.08,350.25 276.38,350.18" fill="none" stroke="#77AC30" stroke-width="1.45"/>
<polygon points="289.13,351.33 290.21,354.44 293.51,354.51 290.88,356.5 291.83,359.65 289.13,357.77 286.43,359.65 287.38,356.5 284.76,354.51 288.05,354.44" fill="none" stroke="#77AC30" stroke-width="1.45"/>
<polygon points="300.05,354.92 301.13,358.03 304.43,358.1 301.8,360.09 302.75,363.24 300.05,361.36 297.35,363.24 298.3,360.09 295.68,358.1 298.97,358.03" fill="none" stroke="#77AC30" stroke-width="1.45"/>
<polygon points="310.31,358 311.39,361.11 314.68,361.17 312.06,363.16 313.01,366.32 310.31,364.44 307.6,366.32 308.56,363.16 305.93,361.17 309.23,361.11" fill="none" stroke="#77AC30" stroke-width="1.45"/>
<polygon points="319.98,360.65 321.06,363.76 324.35,363.82 321.73,365.81 322.68,368.97 319.98,367.09 317.28,368.97 318.23,365.81 315.6,363.82 318.9,363.76" fill="none" stroke="#77AC30" stroke-width="1.45"/>
<polygon points="329.13,362.95 330.21,366.06 333.5,366.13 330.88,368.12 331.83,371.27 329.13,369.39 326.42,371.27 327.38,368.12 324.75,366.13 328.05,366.06" fill="none" stroke="#77AC30" stroke-width="1.45"/>
<polygon points="337.81,364.97 338.89,368.08 342.18,368.15 339.56,370.14 340.51,373.29 337.81,371.41 335.1,373.29 336.06,370.14 333.43,368.15 336.72,368.08" fill="none" stroke="#77AC30" stroke-width="1.45"/>
<polygon points="346.06,366.75 347.14,369.86 350.44,369.93 347.81,371.92 348.77,375.07 346.06,373.19 343.36,375.07 344.31,371.92 341.69,369.93 344.98,369.86" fill="none" stroke="#77AC30" stroke-width="1.45"/>
<polygon points="353.93,368.33 355.01,371.44 358.31,371.51 355.68,373.5 356.64,376.65 353.93,374.77 351.23,376.65 352.18,373.5 349.56,371.51 352.85,371.44" fill="none" stroke="#77AC30" stroke-width="1.45"/>
<polygon points="361.45,369.74 362.54,372.85 365.83,372.92 363.2,374.91 364.16,378.06 361.45,376.18 358.75,378.06 359.7,374.91 357.08,372.92 360.37,372.85" fill="none" stroke="#77AC30" stroke-width="1.45"/>
<polygon points="368.66,371 369.74,374.11 373.03,374.18 370.41,376.17 371.36,379.32 368.66,377.44 365.95,379.32 366.91,376.17 364.28,374.18 367.57,374.11" fill="none" stroke="#77AC30" stroke-width="1.45"/>
<polygon points="375.56,372.14 376.64,375.25 379.94,375.32 377.31,377.31 378.27,380.46 375.56,378.58 372.86,380.46 373.81,377.31 371.19,375.32 374.48,375.25" fill="none" stroke="#77AC30" stroke-width="1.45"/>
<polygon points="382.2,373.17 383.28,376.28 386.57,376.35 383.95,378.34 384.9,381.49 382.2,379.61 379.49,381.49 380.45,378.34 377.82,376.35 381.12,376.28" fill="none" stroke="#77AC30" stroke-width="1.45"/>
<polygon points="388.58,374.1 389.67,377.21 392.96,377.28 390.33,379.27 391.29,382.42 388.58,380.54 385.88,382.42 386.83,379.27 384.21,377.28 387.5,377.21" fill="none" stroke="#77AC30" stroke-width="1.45"/>
<polygon points="394.74,374.95 395.82,378.06 399.11,378.13 396.49,380.12 397.44,383.27 394.74,381.39 392.03,383.27 392.99,380.12 390.36,378.13 393.66,378.06" fill="none" stroke="#77AC30" stroke-width="1.45"/>
<polygon points="400.68,375.73 401.76,378.84 405.05,378.91 402.43,380.9 403.38,384.05 400.68,382.17 397.97,384.05 398.93,380.9 396.3,378.91 399.59,378.84" fill="none" stroke="#77AC30" stroke-width="1.45"/>
<polygon points="406.41,376.44 407.49,379.56 410.79,379.62 408.16,381.61 409.12,384.77 406.41,382.88 403.71,384.77 404.66,381.61 402.04,379.62 405.33,379.56" fill="none" stroke="#77AC30" stroke-width="1.45"/>
<polygon points="411.96,377.1 413.04,380.21 416.33,380.28 413.71,382.27 414.66,385.42 411.96,383.54 409.26,385.42 410.21,382.27 407.58,380.28 410.88,380.21" fill="none" stroke="#77AC30" stroke-width="1.45"/>
<polygon points="417.33,377.7 418.41,380.82 421.71,380.88 419.08,382.87 420.04,386.03 417.33,384.14 414.63,386.03 415.58,382.87 412.96,380.88 416.25,380.82" fill="none" stroke="#77AC30" stroke-width="1.45"/>
<polygon points="422.54,378.26 423.62,381.37 426.91,381.44 424.29,383.43 425.24,386.58 422.54,384.7 419.83,386.58 420.79,383.43 418.16,381.44 421.46,381.37" fill="none" stroke="#77AC30" stroke-width="1.45"/>
<polygon points="427.59,378.78 428.67,381.89 431.96,381.96 429.34,383.95 430.29,387.1 427.59,385.22 424.89,387.1 425.84,383.95 423.21,381.96 426.51,381.89" fill="none" stroke="#77AC30" stroke-width="1.45"/>
<polygon points="432.49,379.26 433.58,382.37 436.87,382.44 434.24,384.43 435.2,387.58 432.49,385.7 429.79,387.58 430.74,384.43 428.12,382.44 431.41,382.37" fill="none" stroke="#77AC30" stroke-width="1.45"/>
<polygon points="437.26,379.71 438.34,382.82 441.64,382.89 439.01,384.88 439.96,388.03 437.26,386.15 434.56,388.03 435.51,384.88 432.89,382.89 436.18,382.82" fill="none" stroke="#77AC30" stroke-width="1.45"/>
<polygon points="441.9,380.13 442.98,383.24 446.27,383.31 443.65,385.3 444.6,388.45 441.9,386.57 439.19,388.45 440.15,385.3 437.52,383.31 440.82,383.24" fill="none" stroke="#77AC30" stroke-width="1.45"/>
<polygon points="446.41,380.52 447.49,383.63 450.78,383.7 448.16,385.69 449.11,388.84 446.41,386.96 443.71,388.84 444.66,385.69 442.03,383.7 445.33,383.63" fill="none" stroke="#77AC30" stroke-width="1.45"/>
<polygon points="450.8,380.88 451.89,384 455.18,384.06 452.55,386.05 453.51,389.21 450.8,387.32 448.1,389.21 449.05,386.05 446.43,384.06 449.72,384" fill="none" stroke="#77AC30" stroke-width="1.45"/>
<polygon points="455.09,381.23 456.17,384.34 459.46,384.4 456.84,386.39 457.79,389.55 455.09,387.67 452.38,389.55 453.34,386.39 450.71,384.4 454.01,384.34" fill="none" stroke="#77AC30" stroke-width="1.45"/>
<polygon points="459.27,381.55 460.35,384.66 463.64,384.72 461.02,386.71 461.97,389.87 459.27,387.99 456.56,389.87 457.52,386.71 454.89,384.72 458.18,384.66" fill="none" stroke="#77AC30" stroke-width="1.45"/>
<polygon points="463.34,381.85 464.42,384.96 467.72,385.02 465.09,387.01 466.05,390.17 463.34,388.29 460.64,390.17 461.59,387.01 458.97,385.02 462.26,384.96" fill="none" stroke="#77AC30" stroke-width="1.45"/>
<polygon points="467.32,382.13 468.41,385.24 471.7,385.31 469.07,387.3 470.03,390.45 467.32,388.57 464.62,390.45 465.57,387.3 462.95,385.31 466.24,385.24" fill="none" stroke="#77AC30" stroke-width="1.45"/>
<polygon points="471.21,382.4 472.3,385.51 475.59,385.57 472.96,387.56 473.92,390.72 471.21,388.84 468.51,390.72 469.46,387.56 466.84,385.57 470.13,385.51" fill="none" stroke="#77AC30" stroke-width="1.45"/>
<polygon points="475.02,382.65 476.1,385.76 479.39,385.83 476.77,387.82 477.72,390.97 475.02,389.09 472.31,390.97 473.27,387.82 470.64,385.83 473.94,385.76" fill="none" stroke="#77AC30" stroke-width="1.45"/>
<polygon points="478.74,382.89 479.82,386 483.11,386.06 480.49,388.05 481.44,391.21 478.74,389.33 476.03,391.21 476.99,388.05 474.36,386.06 477.65,386" fill="none" stroke="#77AC30" stroke-width="1.45"/>
<polygon points="482.37,383.11 483.46,386.22 486.75,386.29 484.12,388.28 485.08,391.43 482.37,389.55 479.67,391.43 480.62,388.28 478,386.29 481.29,386.22" fill="none" stroke="#77AC30" stroke-width="1.45"/>
<polygon points="485.94,383.33 487.02,386.44 490.31,386.5 487.69,388.49 488.64,391.65 485.94,389.77 483.23,391.65 484.19,388.49 481.56,386.5 484.86,386.44" fill="none" stroke="#77AC30" stroke-width="1.45"/>
<polygon points="489.43,383.53 490.51,386.64 493.8,386.71 491.18,388.7 492.13,391.85 489.43,389.97 486.72,391.85 487.68,388.7 485.05,386.71 488.34,386.64" fill="none" stroke="#77AC30" stroke-width="1.45"/>
<polygon points="492.84,383.72 493.93,386.83 497.22,386.9 494.59,388.89 495.55,392.04 492.84,390.16 490.14,392.04 491.09,388.89 488.47,386.9 491.76,386.83" fill="none" stroke="#77AC30" stroke-width="1.45"/>
<polygon points="496.19,383.91 497.28,387.02 500.57,387.08 497.94,389.07 498.9,392.23 496.19,390.35 493.49,392.23 494.44,389.07 491.82,387.08 495.11,387.02" fill="none" stroke="#77AC30" stroke-width="1.45"/>
<polygon points="499.48,384.08 500.56,387.19 503.85,387.26 501.23,389.25 502.18,392.4 499.48,390.52 496.78,392.4 497.73,389.25 495.11,387.26 498.4,387.19" fill="none" stroke="#77AC30" stroke-width="1.45"/>
<polygon points="502.7,384.25 503.78,387.36 507.08,387.43 504.45,389.42 505.41,392.57 502.7,390.69 500,392.57 500.95,389.42 498.33,387.43 501.62,387.36" fill="none" stroke="#77AC30" stroke-width="1.45"/>
<polygon points="505.87,384.41 506.95,387.52 510.24,387.59 507.62,389.58 508.57,392.73 505.87,390.85 503.16,392.73 504.12,389.58 501.49,387.59 504.78,387.52" fill="none" stroke="#77AC30" stroke-width="1.45"/>
<polygon points="508.97,384.56 510.05,387.67 513.35,387.74 510.72,389.73 511.67,392.88 508.97,391 506.27,392.88 507.22,389.73 504.6,387.74 507.89,387.67" fill="none" stroke="#77AC30" stroke-width="1.45"/>
<polygon points="512.02,384.7 513.1,387.81 516.39,387.88 513.77,389.87 514.72,393.03 512.02,391.14 509.32,393.03 510.27,389.87 507.64,387.88 510.94,387.81" fill="none" stroke="#77AC30" stroke-width="1.45"/>
<polygon points="515.01,384.84 516.1,387.95 519.39,388.02 516.76,390.01 517.72,393.16 515.01,391.28 512.31,393.16 513.26,390.01 510.64,388.02 513.93,387.95" fill="none" stroke="#77AC30" stroke-width="1.45"/>
<polygon points="517.96,384.98 519.04,388.09 522.33,388.15 519.71,390.14 520.66,393.3 517.96,391.42 515.25,393.3 516.21,390.14 513.58,388.15 516.88,388.09" fill="none" stroke="#77AC30" stroke-width="1.45"/>
<polygon points="520.85,385.1 521.93,388.21 525.22,388.28 522.6,390.27 523.55,393.42 520.85,391.54 518.15,393.42 519.1,390.27 516.47,388.28 519.77,388.21" fill="none" stroke="#77AC30" stroke-width="1.45"/>
<polygon points="523.69,385.22 524.77,388.34 528.07,388.4 525.44,390.39 526.4,393.55 523.69,391.66 520.99,393.55 521.94,390.39 519.32,388.4 522.61,388.34" fill="none" stroke="#77AC30" stroke-width="1.45"/>
<polygon points="526.49,385.34 527.57,388.45 530.86,388.52 528.24,390.51 529.19,393.66 526.49,391.78 523.79,393.66 524.74,390.51 522.11,388.52 525.41,388.45" fill="none" stroke="#77AC30" stroke-width="1.45"/>
<polygon points="529.24,385.45 530.32,388.56 533.62,388.63 530.99,390.62 531.94,393.77 529.24,391.89 526.54,393.77 527.49,390.62 524.87,388.63 528.16,388.56" fill="none" stroke="#77AC30" stroke-width="1.45"/>
<polygon points="531.81,385.56 532.89,388.67 536.18,388.74 533.56,390.73 534.51,393.88 531.81,392 529.11,393.88 530.06,390.73 527.43,388.74 530.73,388.67" fill="none" stroke="#77AC30" stroke-width="1.45"/>
<polygon points="534.2,385.66 535.28,388.78 538.57,388.84 535.95,390.83 536.9,393.99 534.2,392.1 531.5,393.99 532.45,390.83 529.83,388.84 533.12,388.78" fill="none" stroke="#77AC30" stroke-width="1.45"/>
<polyline points="66.3,111.31 103.2,191.89 134.26,240.4 160.18,272.46 182.77,294.79 202.7,311.08 220.53,323.38 236.65,332.94 251.37,340.54 264.92,346.7 277.46,351.78 289.13,356.02 300.05,359.61 310.31,362.68 319.98,365.32 329.13,367.62 337.81,369.63 346.06,371.41 353.93,372.98 361.45,374.39 368.66,375.65 375.56,376.78 382.2,377.81 388.58,378.74 394.74,379.59 400.68,380.37 406.41,381.08 411.96,381.73 417.33,382.34 422.54,382.89 427.59,383.41 432.49,383.89 437.26,384.34 441.9,384.75 446.41,385.14 450.8,385.51 455.09,385.85 459.27,386.17 463.34,386.47 467.32,386.75 471.21,387.01 475.02,387.27 478.74,387.5 482.37,387.73 485.94,387.94 489.43,388.15 492.84,388.34 496.19,388.52 499.48,388.7 502.7,388.86 505.87,389.02 508.97,389.17 512.02,389.32 515.01,389.46 517.96,389.59 520.85,389.71 523.69,389.84 526.49,389.95 529.24,390.07 531.81,390.17 534.2,390.28" fill="none" stroke="#4DBEEE" stroke-width="1.5"/>
<path d="M61.5 111.31L71.1 111.31M66.3 106.51L66.3 116.11" stroke="#4DBEEE" stroke-width="1.25" fill="none"/>
<path d="M98.4 191.89L108 191.89M103.2 187.09L103.2 196.69" stroke="#4DBEEE" stroke-width="1.25" fill="none"/>
<path d="M129.46 240.4L139.06 240.4M134.26 235.6L134.26 245.2" stroke="#4DBEEE" stroke-width="1.25" fill="none"/>
<path d="M155.38 272.46L164.98 272.46M160.18 267.66L160.18 277.26" stroke="#4DBEEE" stroke-width="1.25" fill="none"/>
<path d="M177.97 294.79L187.57 294.79M182.77 289.99L182.77 299.59" stroke="#4DBEEE" stroke-width="1.25" fill="none"/>
<path d="M197.9 311.08L207.5 311.08M202.7 306.28L202.7 315.88" stroke="#4DBEEE" stroke-width="1.25" fill="none"/>
<path d="M215.73 323.38L225.33 323.38M220.53 318.58L220.53 328.18" stroke="#4DBEEE" stroke-width="1.25" fill="none"/>
<path d="M231.85 332.94L241.45 332.94M236.65 328.14L236.65 337.74" stroke="#4DBEEE" stroke-width="1.25" fill="none"/>
<path d="M246.57 340.54L256.17 340.54M251.37 335.74L251.37 345.34" stroke="#4DBEEE" stroke-width="1.25" fill="none"/>
<path d="M260.12 346.7L269.72 346.7M264.92 341.9L264.92 351.5" stroke="#4DBEEE" stroke-width="1.25" fill="none"/>
<path d="M272.66 351.78L282.26 351.78M277.46 346.98L277.46 356.58" stroke="#4DBEEE" stroke-width="1.25" fill="none"/>
<path d="M284.33 356.02L293.93 356.02M289.13 351.22L289.13 360.82" stroke="#4DBEEE" stroke-width="1.25" fill="none"/>
<path d="M295.25 359.61L304.85 359.61M300.05 354.81L300.05 364.41" stroke="#4DBEEE" stroke-width="1.25" fill="none"/>
<path d="M305.51 362.68L315.11 362.68M310.31 357.88L310.31 367.48" stroke="#4DBEEE" stroke-width="1.25" fill="none"/>
<path d="M315.18 365.32L324.78 365.32M319.98 360.52L319.98 370.12" stroke="#4DBEEE" stroke-width="1.25" fill="none"/>
<path d="M324.33 367.62L333.93 367.62M329.13 362.82L329.13 372.42" stroke="#4DBEEE" stroke-width="1.25" fill="none"/>
<path d="M333.01 369.63L342.61 369.63M337.81 364.83L337.81 374.43" stroke="#4DBEEE" stroke-width="1.25" fill="none"/>
<path d="M341.26 371.41L350.86 371.41M346.06 366.61L346.06 376.21" stroke="#4DBEEE" stroke-width="1.25" fill="none"/>
<path d="M349.13 372.98L358.73 372.98M353.93 368.18L353.93 377.78" stroke="#4DBEEE" stroke-width="1.25" fill="none"/>
<path d="M356.65 374.39L366.25 374.39M361.45 369.59L361.45 379.19" stroke="#4DBEEE" stroke-width="1.25" fill="none"/>
<path d="M363.86 375.65L373.46 375.65M368.66 370.85L368.66 380.45" stroke="#4DBEEE" stroke-width="1.25" fill="none"/>
<path d="M370.76 376.78L380.36 376.78M375.56 371.98L375.56 381.58" stroke="#4DBEEE" stroke-width="1.25" fill="none"/>
<path d="M377.4 377.81L387 377.81M382.2 373.01L382.2 382.61" stroke="#4DBEEE" stroke-width="1.25" fill="none"/>
<path d="M383.78 378.74L393.38 378.74M388.58 373.94L388.58 383.54" stroke="#4DBEEE" stroke-width="1.25" fill="none"/>
<path d="M389.94 379.59L399.54 379.59M394.74 374.79L394.74 384.39" stroke="#4DBEEE" stroke-width="1.25" fill="none"/>
<path d="M395.88 380.37L405.48 380.37M400.68 375.57L400.68 385.17" stroke="#4DBEEE" stroke-width="1.25" fill="none"/>
<path d="M401.61 381.08L411.21 381.08M406.41 376.28L406.41 385.88" stroke="#4DBEEE" stroke-width="1.25" fill="none"/>
<path d="M407.16 381.73L416.76 381.73M411.96 376.93L411.96 386.53" stroke="#4DBEEE" stroke-width="1.25" fill="none"/>
<path d="M412.53 382.34L422.13 382.34M417.33 377.54L417.33 387.14" stroke="#4DBEEE" stroke-width="1.25" fill="none"/>
<path d="M417.74 382.89L427.34 382.89M422.54 378.09L422.54 387.69" stroke="#4DBEEE" stroke-width="1.25" fill="none"/>
<path d="M422.79 383.41L432.39 383.41M427.59 378.61L427.59 388.21" stroke="#4DBEEE" stroke-width="1.25" fill="none"/>
<path d="M427.69 383.89L437.29 383.89M432.49 379.09L432.49 388.69" stroke="#4DBEEE" stroke-width="1.25" fill="none"/>
<path d="M432.46 384.34L442.06 384.34M437.26 379.54L437.26 389.14" stroke="#4DBEEE" stroke-width="1.25" fill="none"/>
<path d="M437.1 384.75L446.7 384.75M441.9 379.95L441.9 389.55" stroke="#4DBEEE" stroke-width="1.25" fill="none"/>
<path d="M441.61 385.14L451.21 385.14M446.41 380.34L446.41 389.94" stroke="#4DBEEE" stroke-width="1.25" fill="none"/>
<path d="M446 385.51L455.6 385.51M450.8 380.71L450.8 390.31" stroke="#4DBEEE" stroke-width="1.25" fill="none"/>
<path d="M450.29 385.85L459.89 385.85M455.09 381.05L455.09 390.65" stroke="#4DBEEE" stroke-width="1.25" fill="none"/>
<path d="M454.47 386.17L464.07 386.17M459.27 381.37L459.27 390.97" stroke="#4DBEEE" stroke-width="1.25" fill="none"/>
<path d="M458.54 386.47L468.14 386.47M463.34 381.67L463.34 391.27" stroke="#4DBEEE" stroke-width="1.25" fill="none"/>
<path d="M462.52 386.75L472.12 386.75M467.32 381.95L467.32 391.55" stroke="#4DBEEE" stroke-width="1.25" fill="none"/>
<path d="M466.41 387.01L476.01 387.01M471.21 382.21L471.21 391.81" stroke="#4DBEEE" stroke-width="1.25" fill="none"/>
<path d="M470.22 387.27L479.82 387.27M475.02 382.47L475.02 392.07" stroke="#4DBEEE" stroke-width="1.25" fill="none"/>
<path d="M473.94 387.5L483.54 387.5M478.74 382.7L478.74 392.3" stroke="#4DBEEE" stroke-width="1.25" fill="none"/>
<path d="M477.57 387.73L487.17 387.73M482.37 382.93L482.37 392.53" stroke="#4DBEEE" stroke-width="1.25" fill="none"/>
<path d="M481.14 387.94L490.74 387.94M485.94 383.14L485.94 392.74" stroke="#4DBEEE" stroke-width="1.25" fill="none"/>
<path d="M484.63 388.15L494.23 388.15M489.43 383.35L489.43 392.95" stroke="#4DBEEE" stroke-width="1.25" fill="none"/>
<path d="M488.04 388.34L497.64 388.34M492.84 383.54L492.84 393.14" stroke="#4DBEEE" stroke-width="1.25" fill="none"/>
<path d="M491.39 388.52L500.99 388.52M496.19 383.72L496.19 393.32" stroke="#4DBEEE" stroke-width="1.25" fill="none"/>
<path d="M494.68 388.7L504.28 388.7M499.48 383.9L499.48 393.5" stroke="#4DBEEE" stroke-width="1.25" fill="none"/>
<path d="M497.9 388.86L507.5 388.86M502.7 384.06L502.7 393.66" stroke="#4DBEEE" stroke-width="1.25" fill="none"/>
<path d="M501.07 389.02L510.67 389.02M505.87 384.22L505.87 393.82" stroke="#4DBEEE" stroke-width="1.25" fill="none"/>
<path d="M504.17 389.17L513.77 389.17M508.97 384.37L508.97 393.97" stroke="#4DBEEE" stroke-width="1.25" fill="none"/>
<path d="M507.22 389.32L516.82 389.32M512.02 384.52L512.02 394.12" stroke="#4DBEEE" stroke-width="1.25" fill="none"/>
<path d="M510.21 389.46L519.81 389.46M515.01 384.66L515.01 394.26" stroke="#4DBEEE" stroke-width="1.25" fill="none"/>
<path d="M513.16 389.59L522.76 389.59M517.96 384.79L517.96 394.39" stroke="#4DBEEE" stroke-width="1.25" fill="none"/>
<path d="M516.05 389.71L525.65 389.71M520.85 384.91L520.85 394.51" stroke="#4DBEEE" stroke-width="1.25" fill="none"/>
<path d="M518.89 389.84L528.49 389.84M523.69 385.04L523.69 394.64" stroke="#4DBEEE" stroke-width="1.25" fill="none"/>
<path d="M521.69 389.95L531.29 389.95M526.49 385.15L526.49 394.75" stroke="#4DBEEE" stroke-width="1.25" fill="none"/>
<path d="M524.44 390.07L534.04 390.07M529.24 385.27L529.24 394.87" stroke="#4DBEEE" stroke-width="1.25" fill="none"/>
<path d="M527.01 390.17L536.61 390.17M531.81 385.37L531.81 394.97" stroke="#4DBEEE" stroke-width="1.25" fill="none"/>
<path d="M529.4 390.28L539 390.28M534.2 385.48L534.2 395.08" stroke="#4DBEEE" stroke-width="1.25" fill="none"/>
<g font-family="'Liberation Serif', 'Times New Roman', serif"><text x="59.6" y="401.6" text-anchor="end" font-size="17.4" fill="#262626">0</text><text x="59.6" y="328.84" text-anchor="end" font-size="17.4" fill="#262626">50</text><text x="59.6" y="256.08" text-anchor="end" font-size="17.4" fill="#262626">100</text><text x="59.6" y="183.32" text-anchor="end" font-size="17.4" fill="#262626">150</text><text x="59.6" y="110.56" text-anchor="end" font-size="17.4" fill="#262626">200</text><text x="59.6" y="37.8" text-anchor="end" font-size="17.4" fill="#262626">250</text><text x="129.4" y="422.9" font-size="17" fill="#262626">10</text><text x="146.3" y="414.5" font-size="12.5" fill="#262626">2</text><text x="518.2" y="423.0" font-size="17" fill="#262626">10</text><text x="535.3" y="414.8" font-size="12.5" fill="#262626">3</text></g>
<rect x="68.2" y="277.0" width="96.4" height="115.3" fill="#fff" stroke="#262626" stroke-width="1.2"/>
<line x1="72.6" y1="287.9" x2="115.5" y2="287.9" stroke="#1276C0" stroke-width="1.5"/>
<circle cx="94.1" cy="287.9" r="4.6" fill="none" stroke="#1276C0" stroke-width="1.45"/>
<text x="119.2" y="294" font-size="15.2" fill="#262626" font-family="'Liberation Serif', 'Times New Roman', serif">M=N</text>
<line x1="72.6" y1="306.6" x2="115.5" y2="306.6" stroke="#DA5A22" stroke-width="1.5"/>
<path d="M94.1 301L99.03 306.6L94.1 312.2L89.17 306.6Z" fill="none" stroke="#DA5A22" stroke-width="1.45"/>
<text x="119.2" y="312.7" font-size="15.2" fill="#262626" font-family="'Liberation Serif', 'Times New Roman', serif">M=2N</text>
<line x1="72.6" y1="325.3" x2="115.5" y2="325.3" stroke="#EDB120" stroke-width="1.5"/>
<rect x="90.4" y="321.6" width="7.4" height="7.4" fill="none" stroke="#EDB120" stroke-width="1.45"/>
<text x="119.2" y="331.4" font-size="15.2" fill="#262626" font-family="'Liberation Serif', 'Times New Roman', serif">M=3N</text>
<line x1="72.6" y1="344.0" x2="115.5" y2="344.0" stroke="#8A3D9A" stroke-width="1.5"/>
<path d="M89.4 344L98.8 344M94.1 339.3L94.1 348.7M90.8 340.7L97.4 347.3M90.8 347.3L97.4 340.7" stroke="#8A3D9A" stroke-width="1.15" fill="none"/>
<text x="119.2" y="350.1" font-size="15.2" fill="#262626" font-family="'Liberation Serif', 'Times New Roman', serif">M=4N</text>
<line x1="72.6" y1="362.7" x2="115.5" y2="362.7" stroke="#77AC30" stroke-width="1.5"/>
<polygon points="94.1,358.1 95.18,361.21 98.47,361.28 95.85,363.27 96.8,366.42 94.1,364.54 91.4,366.42 92.35,363.27 89.73,361.28 93.02,361.21" fill="none" stroke="#77AC30" stroke-width="1.45"/>
<text x="119.2" y="368.8" font-size="15.2" fill="#262626" font-family="'Liberation Serif', 'Times New Roman', serif">M=5N</text>
<line x1="72.6" y1="381.4" x2="115.5" y2="381.4" stroke="#4DBEEE" stroke-width="1.5"/>
<path d="M89.3 381.4L98.9 381.4M94.1 376.6L94.1 386.2" stroke="#4DBEEE" stroke-width="1.25" fill="none"/>
<text x="119.2" y="387.5" font-size="15.2" fill="#262626" font-family="'Liberation Serif', 'Times New Roman', serif">M=6N</text>
<rect x="236.3" y="60.2" width="265" height="194" fill="#fff"/>
<line x1="251.47" y1="60.2" x2="251.47" y2="254.2" stroke="#b4b4b4" stroke-width="0.9" stroke-dasharray="1.3 3" stroke-dashoffset="0.95"/>
<line x1="265.43" y1="60.2" x2="265.43" y2="254.2" stroke="#b4b4b4" stroke-width="0.9" stroke-dasharray="1.3 3" stroke-dashoffset="0.95"/>
<line x1="278.88" y1="60.2" x2="278.88" y2="254.2" stroke="#b4b4b4" stroke-width="0.9" stroke-dasharray="1.3 3" stroke-dashoffset="0.95"/>
<line x1="291.86" y1="60.2" x2="291.86" y2="254.2" stroke="#b4b4b4" stroke-width="0.9" stroke-dasharray="1.3 3" stroke-dashoffset="0.95"/>
<line x1="316.53" y1="60.2" x2="316.53" y2="254.2" stroke="#b4b4b4" stroke-width="0.9" stroke-dasharray="1.3 3" stroke-dashoffset="0.95"/>
<line x1="328.27" y1="60.2" x2="328.27" y2="254.2" stroke="#b4b4b4" stroke-width="0.9" stroke-dasharray="1.3 3" stroke-dashoffset="0.95"/>
<line x1="339.65" y1="60.2" x2="339.65" y2="254.2" stroke="#b4b4b4" stroke-width="0.9" stroke-dasharray="1.3 3" stroke-dashoffset="0.95"/>
<line x1="350.7" y1="60.2" x2="350.7" y2="254.2" stroke="#b4b4b4" stroke-width="0.9" stroke-dasharray="1.3 3" stroke-dashoffset="0.95"/>
<line x1="371.84" y1="60.2" x2="371.84" y2="254.2" stroke="#b4b4b4" stroke-width="0.9" stroke-dasharray="1.3 3" stroke-dashoffset="0.95"/>
<line x1="381.97" y1="60.2" x2="381.97" y2="254.2" stroke="#b4b4b4" stroke-width="0.9" stroke-dasharray="1.3 3" stroke-dashoffset="0.95"/>
<line x1="391.84" y1="60.2" x2="391.84" y2="254.2" stroke="#b4b4b4" stroke-width="0.9" stroke-dasharray="1.3 3" stroke-dashoffset="0.95"/>
<line x1="401.44" y1="60.2" x2="401.44" y2="254.2" stroke="#b4b4b4" stroke-width="0.9" stroke-dasharray="1.3 3" stroke-dashoffset="0.95"/>
<line x1="419.94" y1="60.2" x2="419.94" y2="254.2" stroke="#b4b4b4" stroke-width="0.9" stroke-dasharray="1.3 3" stroke-dashoffset="0.95"/>
<line x1="428.86" y1="60.2" x2="428.86" y2="254.2" stroke="#b4b4b4" stroke-width="0.9" stroke-dasharray="1.3 3" stroke-dashoffset="0.95"/>
<line x1="437.56" y1="60.2" x2="437.56" y2="254.2" stroke="#b4b4b4" stroke-width="0.9" stroke-dasharray="1.3 3" stroke-dashoffset="0.95"/>
<line x1="446.06" y1="60.2" x2="446.06" y2="254.2" stroke="#b4b4b4" stroke-width="0.9" stroke-dasharray="1.3 3" stroke-dashoffset="0.95"/>
<line x1="462.51" y1="60.2" x2="462.51" y2="254.2" stroke="#b4b4b4" stroke-width="0.9" stroke-dasharray="1.3 3" stroke-dashoffset="0.95"/>
<line x1="470.46" y1="60.2" x2="470.46" y2="254.2" stroke="#b4b4b4" stroke-width="0.9" stroke-dasharray="1.3 3" stroke-dashoffset="0.95"/>
<line x1="478.25" y1="60.2" x2="478.25" y2="254.2" stroke="#b4b4b4" stroke-width="0.9" stroke-dasharray="1.3 3" stroke-dashoffset="0.95"/>
<line x1="485.87" y1="60.2" x2="485.87" y2="254.2" stroke="#b4b4b4" stroke-width="0.9" stroke-dasharray="1.3 3" stroke-dashoffset="0.95"/>
<line x1="500.67" y1="60.2" x2="500.67" y2="254.2" stroke="#b4b4b4" stroke-width="0.9" stroke-dasharray="1.3 3" stroke-dashoffset="0.95"/>
<line x1="304.4" y1="60.2" x2="304.4" y2="254.2" stroke="#d4d4d4" stroke-width="0.9"/>
<line x1="361.42" y1="60.2" x2="361.42" y2="254.2" stroke="#d4d4d4" stroke-width="0.9"/>
<line x1="410.81" y1="60.2" x2="410.81" y2="254.2" stroke="#d4d4d4" stroke-width="0.9"/>
<line x1="454.38" y1="60.2" x2="454.38" y2="254.2" stroke="#d4d4d4" stroke-width="0.9"/>
<line x1="493.35" y1="60.2" x2="493.35" y2="254.2" stroke="#d4d4d4" stroke-width="0.9"/>
<line x1="236.3" y1="173.1" x2="501.3" y2="173.1" stroke="#d4d4d4" stroke-width="0.9"/>
<line x1="236.3" y1="92.2" x2="501.3" y2="92.2" stroke="#d4d4d4" stroke-width="0.9"/>
<rect x="236.3" y="60.2" width="265" height="194" fill="none" stroke="#262626" stroke-width="1.3"/>
<line x1="236.3" y1="254" x2="239.3" y2="254" stroke="#262626" stroke-width="1.2"/>
<line x1="501.3" y1="254" x2="498.3" y2="254" stroke="#262626" stroke-width="1.2"/>
<line x1="236.3" y1="173.1" x2="239.3" y2="173.1" stroke="#262626" stroke-width="1.2"/>
<line x1="501.3" y1="173.1" x2="498.3" y2="173.1" stroke="#262626" stroke-width="1.2"/>
<line x1="236.3" y1="92.2" x2="239.3" y2="92.2" stroke="#262626" stroke-width="1.2"/>
<line x1="501.3" y1="92.2" x2="498.3" y2="92.2" stroke="#262626" stroke-width="1.2"/>
<line x1="236.96" y1="254.2" x2="236.96" y2="251.2" stroke="#262626" stroke-width="1.2"/>
<line x1="236.96" y1="60.2" x2="236.96" y2="63.2" stroke="#262626" stroke-width="1.2"/>
<line x1="304.4" y1="254.2" x2="304.4" y2="251.2" stroke="#262626" stroke-width="1.2"/>
<line x1="304.4" y1="60.2" x2="304.4" y2="63.2" stroke="#262626" stroke-width="1.2"/>
<line x1="361.42" y1="254.2" x2="361.42" y2="251.2" stroke="#262626" stroke-width="1.2"/>
<line x1="361.42" y1="60.2" x2="361.42" y2="63.2" stroke="#262626" stroke-width="1.2"/>
<line x1="410.81" y1="254.2" x2="410.81" y2="251.2" stroke="#262626" stroke-width="1.2"/>
<line x1="410.81" y1="60.2" x2="410.81" y2="63.2" stroke="#262626" stroke-width="1.2"/>
<line x1="454.38" y1="254.2" x2="454.38" y2="251.2" stroke="#262626" stroke-width="1.2"/>
<line x1="454.38" y1="60.2" x2="454.38" y2="63.2" stroke="#262626" stroke-width="1.2"/>
<line x1="493.35" y1="254.2" x2="493.35" y2="251.2" stroke="#262626" stroke-width="1.2"/>
<line x1="493.35" y1="60.2" x2="493.35" y2="63.2" stroke="#262626" stroke-width="1.2"/>
<polyline clip-path="url(#ci)" points="233.99,90.21 245.73,97.83 257.11,105.02 268.16,111.68 278.88,117.86 289.3,123.61 299.43,128.97 309.3,133.98 318.91,138.66 328.27,143.05 337.4,147.16 346.32,151.04 355.02,154.68 363.52,158.12 371.84,161.36 379.97,164.43 387.92,167.34 395.71,170.09 403.34,172.7 410.81,175.17 418.13,177.53 425.32,179.77 432.36,181.91 439.28,183.94 446.06,185.88 452.73,187.74 459.27,189.51 465.71,191.21 472.03,192.83 478.25,194.39 484.36,195.88 490.38,197.31 496.29,198.68 502.12,200" fill="none" stroke="#1276C0" stroke-width="1.5"/>
<circle cx="245.73" cy="97.83" r="4.6" fill="none" stroke="#1276C0" stroke-width="1.45"/>
<circle cx="257.11" cy="105.02" r="4.6" fill="none" stroke="#1276C0" stroke-width="1.45"/>
<circle cx="268.16" cy="111.68" r="4.6" fill="none" stroke="#1276C0" stroke-width="1.45"/>
<circle cx="278.88" cy="117.86" r="4.6" fill="none" stroke="#1276C0" stroke-width="1.45"/>
<circle cx="289.3" cy="123.61" r="4.6" fill="none" stroke="#1276C0" stroke-width="1.45"/>
<circle cx="299.43" cy="128.97" r="4.6" fill="none" stroke="#1276C0" stroke-width="1.45"/>
<circle cx="309.3" cy="133.98" r="4.6" fill="none" stroke="#1276C0" stroke-width="1.45"/>
<circle cx="318.91" cy="138.66" r="4.6" fill="none" stroke="#1276C0" stroke-width="1.45"/>
<circle cx="328.27" cy="143.05" r="4.6" fill="none" stroke="#1276C0" stroke-width="1.45"/>
<circle cx="337.4" cy="147.16" r="4.6" fill="none" stroke="#1276C0" stroke-width="1.45"/>
<circle cx="346.32" cy="151.04" r="4.6" fill="none" stroke="#1276C0" stroke-width="1.45"/>
<circle cx="355.02" cy="154.68" r="4.6" fill="none" stroke="#1276C0" stroke-width="1.45"/>
<circle cx="363.52" cy="158.12" r="4.6" fill="none" stroke="#1276C0" stroke-width="1.45"/>
<circle cx="371.84" cy="161.36" r="4.6" fill="none" stroke="#1276C0" stroke-width="1.45"/>
<circle cx="379.97" cy="164.43" r="4.6" fill="none" stroke="#1276C0" stroke-width="1.45"/>
<circle cx="387.92" cy="167.34" r="4.6" fill="none" stroke="#1276C0" stroke-width="1.45"/>
<circle cx="395.71" cy="170.09" r="4.6" fill="none" stroke="#1276C0" stroke-width="1.45"/>
<circle cx="403.34" cy="172.7" r="4.6" fill="none" stroke="#1276C0" stroke-width="1.45"/>
<circle cx="410.81" cy="175.17" r="4.6" fill="none" stroke="#1276C0" stroke-width="1.45"/>
<circle cx="418.13" cy="177.53" r="4.6" fill="none" stroke="#1276C0" stroke-width="1.45"/>
<circle cx="425.32" cy="179.77" r="4.6" fill="none" stroke="#1276C0" stroke-width="1.45"/>
<circle cx="432.36" cy="181.91" r="4.6" fill="none" stroke="#1276C0" stroke-width="1.45"/>
<circle cx="439.28" cy="183.94" r="4.6" fill="none" stroke="#1276C0" stroke-width="1.45"/>
<circle cx="446.06" cy="185.88" r="4.6" fill="none" stroke="#1276C0" stroke-width="1.45"/>
<circle cx="452.73" cy="187.74" r="4.6" fill="none" stroke="#1276C0" stroke-width="1.45"/>
<circle cx="459.27" cy="189.51" r="4.6" fill="none" stroke="#1276C0" stroke-width="1.45"/>
<circle cx="465.71" cy="191.21" r="4.6" fill="none" stroke="#1276C0" stroke-width="1.45"/>
<circle cx="472.03" cy="192.83" r="4.6" fill="none" stroke="#1276C0" stroke-width="1.45"/>
<circle cx="478.25" cy="194.39" r="4.6" fill="none" stroke="#1276C0" stroke-width="1.45"/>
<circle cx="484.36" cy="195.88" r="4.6" fill="none" stroke="#1276C0" stroke-width="1.45"/>
<circle cx="490.38" cy="197.31" r="4.6" fill="none" stroke="#1276C0" stroke-width="1.45"/>
<circle cx="496.29" cy="198.68" r="4.6" fill="none" stroke="#1276C0" stroke-width="1.45"/>
<circle cx="502.12" cy="200" r="4.6" fill="none" stroke="#1276C0" stroke-width="1.45"/>
<polyline clip-path="url(#ci)" points="233.99,106.29 245.73,113.21 257.11,119.61 268.16,125.55 278.88,131.06 289.3,136.18 299.43,140.97 309.3,145.44 318.91,149.62 328.27,153.54 337.4,157.19 346.32,160.63 355.02,163.87 363.52,166.92 371.84,169.81 379.97,172.54 387.92,175.13 395.71,177.58 403.34,179.9 410.81,182.12 418.13,184.22 425.32,186.22 432.36,188.13 439.28,189.95 446.06,191.69 452.73,193.35 459.27,194.94 465.71,196.46 472.03,197.92 478.25,199.32 484.36,200.66 490.38,201.94 496.29,203.18 502.12,204.36" fill="none" stroke="#DA5A22" stroke-width="1.5"/>
<path d="M245.73 107.61L250.66 113.21L245.73 118.81L240.8 113.21Z" fill="none" stroke="#DA5A22" stroke-width="1.45"/>
<path d="M257.11 114.01L262.04 119.61L257.11 125.21L252.19 119.61Z" fill="none" stroke="#DA5A22" stroke-width="1.45"/>
<path d="M268.16 119.95L273.08 125.55L268.16 131.15L263.23 125.55Z" fill="none" stroke="#DA5A22" stroke-width="1.45"/>
<path d="M278.88 125.46L283.81 131.06L278.88 136.66L273.95 131.06Z" fill="none" stroke="#DA5A22" stroke-width="1.45"/>
<path d="M289.3 130.58L294.23 136.18L289.3 141.78L284.37 136.18Z" fill="none" stroke="#DA5A22" stroke-width="1.45"/>
<path d="M299.43 135.37L304.36 140.97L299.43 146.57L294.51 140.97Z" fill="none" stroke="#DA5A22" stroke-width="1.45"/>
<path d="M309.3 139.84L314.23 145.44L309.3 151.04L304.37 145.44Z" fill="none" stroke="#DA5A22" stroke-width="1.45"/>
<path d="M318.91 144.02L323.83 149.62L318.91 155.22L313.98 149.62Z" fill="none" stroke="#DA5A22" stroke-width="1.45"/>
<path d="M328.27 147.94L333.2 153.54L328.27 159.14L323.34 153.54Z" fill="none" stroke="#DA5A22" stroke-width="1.45"/>
<path d="M337.4 151.59L342.33 157.19L337.4 162.79L332.48 157.19Z" fill="none" stroke="#DA5A22" stroke-width="1.45"/>
<path d="M346.32 155.03L351.25 160.63L346.32 166.23L341.39 160.63Z" fill="none" stroke="#DA5A22" stroke-width="1.45"/>
<path d="M355.02 158.27L359.95 163.87L355.02 169.47L350.09 163.87Z" fill="none" stroke="#DA5A22" stroke-width="1.45"/>
<path d="M363.52 161.32L368.45 166.92L363.52 172.52L358.6 166.92Z" fill="none" stroke="#DA5A22" stroke-width="1.45"/>
<path d="M371.84 164.21L376.77 169.81L371.84 175.41L366.91 169.81Z" fill="none" stroke="#DA5A22" stroke-width="1.45"/>
<path d="M379.97 166.94L384.9 172.54L379.97 178.14L375.04 172.54Z" fill="none" stroke="#DA5A22" stroke-width="1.45"/>
<path d="M387.92 169.53L392.85 175.13L387.92 180.73L382.99 175.13Z" fill="none" stroke="#DA5A22" stroke-width="1.45"/>
<path d="M395.71 171.98L400.64 177.58L395.71 183.18L390.78 177.58Z" fill="none" stroke="#DA5A22" stroke-width="1.45"/>
<path d="M403.34 174.3L408.26 179.9L403.34 185.5L398.41 179.9Z" fill="none" stroke="#DA5A22" stroke-width="1.45"/>
<path d="M410.81 176.52L415.74 182.12L410.81 187.72L405.88 182.12Z" fill="none" stroke="#DA5A22" stroke-width="1.45"/>
<path d="M418.13 178.62L423.06 184.22L418.13 189.82L413.21 184.22Z" fill="none" stroke="#DA5A22" stroke-width="1.45"/>
<path d="M425.32 180.62L430.24 186.22L425.32 191.82L420.39 186.22Z" fill="none" stroke="#DA5A22" stroke-width="1.45"/>
<path d="M432.36 182.53L437.29 188.13L432.36 193.73L427.43 188.13Z" fill="none" stroke="#DA5A22" stroke-width="1.45"/>
<path d="M439.28 184.35L444.2 189.95L439.28 195.55L434.35 189.95Z" fill="none" stroke="#DA5A22" stroke-width="1.45"/>
<path d="M446.06 186.09L450.99 191.69L446.06 197.29L441.14 191.69Z" fill="none" stroke="#DA5A22" stroke-width="1.45"/>
<path d="M452.73 187.75L457.66 193.35L452.73 198.95L447.8 193.35Z" fill="none" stroke="#DA5A22" stroke-width="1.45"/>
<path d="M459.27 189.34L464.2 194.94L459.27 200.54L454.35 194.94Z" fill="none" stroke="#DA5A22" stroke-width="1.45"/>
<path d="M465.71 190.86L470.64 196.46L465.71 202.06L460.78 196.46Z" fill="none" stroke="#DA5A22" stroke-width="1.45"/>
<path d="M472.03 192.32L476.96 197.92L472.03 203.52L467.1 197.92Z" fill="none" stroke="#DA5A22" stroke-width="1.45"/>
<path d="M478.25 193.72L483.18 199.32L478.25 204.92L473.32 199.32Z" fill="none" stroke="#DA5A22" stroke-width="1.45"/>
<path d="M484.36 195.06L489.29 200.66L484.36 206.26L479.43 200.66Z" fill="none" stroke="#DA5A22" stroke-width="1.45"/>
<path d="M490.38 196.34L495.3 201.94L490.38 207.54L485.45 201.94Z" fill="none" stroke="#DA5A22" stroke-width="1.45"/>
<path d="M496.29 197.58L501.22 203.18L496.29 208.78L491.37 203.18Z" fill="none" stroke="#DA5A22" stroke-width="1.45"/>
<path d="M502.12 198.76L507.05 204.36L502.12 209.96L497.19 204.36Z" fill="none" stroke="#DA5A22" stroke-width="1.45"/>
<polyline clip-path="url(#ci)" points="233.99,108.48 245.73,115.3 257.11,121.61 268.16,127.45 278.88,132.88 289.3,137.93 299.43,142.65 309.3,147.05 318.91,151.17 328.27,155.03 337.4,158.63 346.32,162.02 355.02,165.21 363.52,168.22 371.84,171.06 379.97,173.75 387.92,176.3 395.71,178.71 403.34,181 410.81,183.18 418.13,185.26 425.32,187.23 432.36,189.11 439.28,190.9 446.06,192.62 452.73,194.25 459.27,195.82 465.71,197.32 472.03,198.75 478.25,200.13 484.36,201.45 490.38,202.71 496.29,203.93 502.12,205.1" fill="none" stroke="#EDB120" stroke-width="1.5"/>
<rect x="242.03" y="111.6" width="7.4" height="7.4" fill="none" stroke="#EDB120" stroke-width="1.45"/>
<rect x="253.41" y="117.91" width="7.4" height="7.4" fill="none" stroke="#EDB120" stroke-width="1.45"/>
<rect x="264.46" y="123.75" width="7.4" height="7.4" fill="none" stroke="#EDB120" stroke-width="1.45"/>
<rect x="275.18" y="129.18" width="7.4" height="7.4" fill="none" stroke="#EDB120" stroke-width="1.45"/>
<rect x="285.6" y="134.23" width="7.4" height="7.4" fill="none" stroke="#EDB120" stroke-width="1.45"/>
<rect x="295.73" y="138.95" width="7.4" height="7.4" fill="none" stroke="#EDB120" stroke-width="1.45"/>
<rect x="305.6" y="143.35" width="7.4" height="7.4" fill="none" stroke="#EDB120" stroke-width="1.45"/>
<rect x="315.21" y="147.47" width="7.4" height="7.4" fill="none" stroke="#EDB120" stroke-width="1.45"/>
<rect x="324.57" y="151.33" width="7.4" height="7.4" fill="none" stroke="#EDB120" stroke-width="1.45"/>
<rect x="333.7" y="154.93" width="7.4" height="7.4" fill="none" stroke="#EDB120" stroke-width="1.45"/>
<rect x="342.62" y="158.32" width="7.4" height="7.4" fill="none" stroke="#EDB120" stroke-width="1.45"/>
<rect x="351.32" y="161.51" width="7.4" height="7.4" fill="none" stroke="#EDB120" stroke-width="1.45"/>
<rect x="359.82" y="164.52" width="7.4" height="7.4" fill="none" stroke="#EDB120" stroke-width="1.45"/>
<rect x="368.14" y="167.36" width="7.4" height="7.4" fill="none" stroke="#EDB120" stroke-width="1.45"/>
<rect x="376.27" y="170.05" width="7.4" height="7.4" fill="none" stroke="#EDB120" stroke-width="1.45"/>
<rect x="384.22" y="172.6" width="7.4" height="7.4" fill="none" stroke="#EDB120" stroke-width="1.45"/>
<rect x="392.01" y="175.01" width="7.4" height="7.4" fill="none" stroke="#EDB120" stroke-width="1.45"/>
<rect x="399.64" y="177.3" width="7.4" height="7.4" fill="none" stroke="#EDB120" stroke-width="1.45"/>
<rect x="407.11" y="179.48" width="7.4" height="7.4" fill="none" stroke="#EDB120" stroke-width="1.45"/>
<rect x="414.43" y="181.56" width="7.4" height="7.4" fill="none" stroke="#EDB120" stroke-width="1.45"/>
<rect x="421.62" y="183.53" width="7.4" height="7.4" fill="none" stroke="#EDB120" stroke-width="1.45"/>
<rect x="428.66" y="185.41" width="7.4" height="7.4" fill="none" stroke="#EDB120" stroke-width="1.45"/>
<rect x="435.58" y="187.2" width="7.4" height="7.4" fill="none" stroke="#EDB120" stroke-width="1.45"/>
<rect x="442.36" y="188.92" width="7.4" height="7.4" fill="none" stroke="#EDB120" stroke-width="1.45"/>
<rect x="449.03" y="190.55" width="7.4" height="7.4" fill="none" stroke="#EDB120" stroke-width="1.45"/>
<rect x="455.57" y="192.12" width="7.4" height="7.4" fill="none" stroke="#EDB120" stroke-width="1.45"/>
<rect x="462.01" y="193.62" width="7.4" height="7.4" fill="none" stroke="#EDB120" stroke-width="1.45"/>
<rect x="468.33" y="195.05" width="7.4" height="7.4" fill="none" stroke="#EDB120" stroke-width="1.45"/>
<rect x="474.55" y="196.43" width="7.4" height="7.4" fill="none" stroke="#EDB120" stroke-width="1.45"/>
<rect x="480.66" y="197.75" width="7.4" height="7.4" fill="none" stroke="#EDB120" stroke-width="1.45"/>
<rect x="486.68" y="199.01" width="7.4" height="7.4" fill="none" stroke="#EDB120" stroke-width="1.45"/>
<rect x="492.59" y="200.23" width="7.4" height="7.4" fill="none" stroke="#EDB120" stroke-width="1.45"/>
<rect x="498.42" y="201.4" width="7.4" height="7.4" fill="none" stroke="#EDB120" stroke-width="1.45"/>
<polyline clip-path="url(#ci)" points="233.99,109.58 245.73,116.35 257.11,122.61 268.16,128.41 278.88,133.8 289.3,138.81 299.43,143.48 309.3,147.85 318.91,151.94 328.27,155.78 337.4,159.35 346.32,162.71 355.02,165.87 363.52,168.86 371.84,171.68 379.97,174.35 387.92,176.88 395.71,179.28 403.34,181.56 410.81,183.72 418.13,185.77 425.32,187.73 432.36,189.6 439.28,191.38 446.06,193.08 452.73,194.7 459.27,196.26 465.71,197.75 472.03,199.17 478.25,200.53 484.36,201.84 490.38,203.1 496.29,204.31 502.12,205.47" fill="none" stroke="#8A3D9A" stroke-width="1.5"/>
<path d="M241.03 116.35L250.43 116.35M245.73 111.65L245.73 121.05M242.43 113.05L249.03 119.65M242.43 119.65L249.03 113.05" stroke="#8A3D9A" stroke-width="1.15" fill="none"/>
<path d="M252.41 122.61L261.81 122.61M257.11 117.91L257.11 127.31M253.81 119.31L260.41 125.91M253.81 125.91L260.41 119.31" stroke="#8A3D9A" stroke-width="1.15" fill="none"/>
<path d="M263.46 128.41L272.86 128.41M268.16 123.71L268.16 133.11M264.86 125.11L271.46 131.71M264.86 131.71L271.46 125.11" stroke="#8A3D9A" stroke-width="1.15" fill="none"/>
<path d="M274.18 133.8L283.58 133.8M278.88 129.1L278.88 138.5M275.58 130.5L282.18 137.1M275.58 137.1L282.18 130.5" stroke="#8A3D9A" stroke-width="1.15" fill="none"/>
<path d="M284.6 138.81L294 138.81M289.3 134.11L289.3 143.51M286 135.51L292.6 142.11M286 142.11L292.6 135.51" stroke="#8A3D9A" stroke-width="1.15" fill="none"/>
<path d="M294.73 143.48L304.13 143.48M299.43 138.78L299.43 148.18M296.13 140.18L302.73 146.78M296.13 146.78L302.73 140.18" stroke="#8A3D9A" stroke-width="1.15" fill="none"/>
<path d="M304.6 147.85L314 147.85M309.3 143.15L309.3 152.55M306 144.55L312.6 151.15M306 151.15L312.6 144.55" stroke="#8A3D9A" stroke-width="1.15" fill="none"/>
<path d="M314.21 151.94L323.61 151.94M318.91 147.24L318.91 156.64M315.61 148.64L322.21 155.24M315.61 155.24L322.21 148.64" stroke="#8A3D9A" stroke-width="1.15" fill="none"/>
<path d="M323.57 155.78L332.97 155.78M328.27 151.08L328.27 160.48M324.97 152.48L331.57 159.08M324.97 159.08L331.57 152.48" stroke="#8A3D9A" stroke-width="1.15" fill="none"/>
<path d="M332.7 159.35L342.1 159.35M337.4 154.65L337.4 164.05M334.1 156.05L340.7 162.65M334.1 162.65L340.7 156.05" stroke="#8A3D9A" stroke-width="1.15" fill="none"/>
<path d="M341.62 162.71L351.02 162.71M346.32 158.01L346.32 167.41M343.02 159.41L349.62 166.01M343.02 166.01L349.62 159.41" stroke="#8A3D9A" stroke-width="1.15" fill="none"/>
<path d="M350.32 165.87L359.72 165.87M355.02 161.17L355.02 170.57M351.72 162.57L358.32 169.17M351.72 169.17L358.32 162.57" stroke="#8A3D9A" stroke-width="1.15" fill="none"/>
<path d="M358.82 168.86L368.22 168.86M363.52 164.16L363.52 173.56M360.22 165.56L366.82 172.16M360.22 172.16L366.82 165.56" stroke="#8A3D9A" stroke-width="1.15" fill="none"/>
<path d="M367.14 171.68L376.54 171.68M371.84 166.98L371.84 176.38M368.54 168.38L375.14 174.98M368.54 174.98L375.14 168.38" stroke="#8A3D9A" stroke-width="1.15" fill="none"/>
<path d="M375.27 174.35L384.67 174.35M379.97 169.65L379.97 179.05M376.67 171.05L383.27 177.65M376.67 177.65L383.27 171.05" stroke="#8A3D9A" stroke-width="1.15" fill="none"/>
<path d="M383.22 176.88L392.62 176.88M387.92 172.18L387.92 181.58M384.62 173.58L391.22 180.18M384.62 180.18L391.22 173.58" stroke="#8A3D9A" stroke-width="1.15" fill="none"/>
<path d="M391.01 179.28L400.41 179.28M395.71 174.58L395.71 183.98M392.41 175.98L399.01 182.58M392.41 182.58L399.01 175.98" stroke="#8A3D9A" stroke-width="1.15" fill="none"/>
<path d="M398.64 181.56L408.04 181.56M403.34 176.86L403.34 186.26M400.04 178.26L406.64 184.86M400.04 184.86L406.64 178.26" stroke="#8A3D9A" stroke-width="1.15" fill="none"/>
<path d="M406.11 183.72L415.51 183.72M410.81 179.02L410.81 188.42M407.51 180.42L414.11 187.02M407.51 187.02L414.11 180.42" stroke="#8A3D9A" stroke-width="1.15" fill="none"/>
<path d="M413.43 185.77L422.83 185.77M418.13 181.07L418.13 190.47M414.83 182.47L421.43 189.07M414.83 189.07L421.43 182.47" stroke="#8A3D9A" stroke-width="1.15" fill="none"/>
<path d="M420.62 187.73L430.02 187.73M425.32 183.03L425.32 192.43M422.02 184.43L428.62 191.03M422.02 191.03L428.62 184.43" stroke="#8A3D9A" stroke-width="1.15" fill="none"/>
<path d="M427.66 189.6L437.06 189.6M432.36 184.9L432.36 194.3M429.06 186.3L435.66 192.9M429.06 192.9L435.66 186.3" stroke="#8A3D9A" stroke-width="1.15" fill="none"/>
<path d="M434.58 191.38L443.98 191.38M439.28 186.68L439.28 196.08M435.98 188.08L442.58 194.68M435.98 194.68L442.58 188.08" stroke="#8A3D9A" stroke-width="1.15" fill="none"/>
<path d="M441.36 193.08L450.76 193.08M446.06 188.38L446.06 197.78M442.76 189.78L449.36 196.38M442.76 196.38L449.36 189.78" stroke="#8A3D9A" stroke-width="1.15" fill="none"/>
<path d="M448.03 194.7L457.43 194.7M452.73 190L452.73 199.4M449.43 191.4L456.03 198M449.43 198L456.03 191.4" stroke="#8A3D9A" stroke-width="1.15" fill="none"/>
<path d="M454.57 196.26L463.97 196.26M459.27 191.56L459.27 200.96M455.97 192.96L462.57 199.56M455.97 199.56L462.57 192.96" stroke="#8A3D9A" stroke-width="1.15" fill="none"/>
<path d="M461.01 197.75L470.41 197.75M465.71 193.05L465.71 202.45M462.41 194.45L469.01 201.05M462.41 201.05L469.01 194.45" stroke="#8A3D9A" stroke-width="1.15" fill="none"/>
<path d="M467.33 199.17L476.73 199.17M472.03 194.47L472.03 203.87M468.73 195.87L475.33 202.47M468.73 202.47L475.33 195.87" stroke="#8A3D9A" stroke-width="1.15" fill="none"/>
<path d="M473.55 200.53L482.95 200.53M478.25 195.83L478.25 205.23M474.95 197.23L481.55 203.83M474.95 203.83L481.55 197.23" stroke="#8A3D9A" stroke-width="1.15" fill="none"/>
<path d="M479.66 201.84L489.06 201.84M484.36 197.14L484.36 206.54M481.06 198.54L487.66 205.14M481.06 205.14L487.66 198.54" stroke="#8A3D9A" stroke-width="1.15" fill="none"/>
<path d="M485.68 203.1L495.08 203.1M490.38 198.4L490.38 207.8M487.08 199.8L493.68 206.4M487.08 206.4L493.68 199.8" stroke="#8A3D9A" stroke-width="1.15" fill="none"/>
<path d="M491.59 204.31L500.99 204.31M496.29 199.61L496.29 209.01M492.99 201.01L499.59 207.61M492.99 207.61L499.59 201.01" stroke="#8A3D9A" stroke-width="1.15" fill="none"/>
<path d="M497.42 205.47L506.82 205.47M502.12 200.77L502.12 210.17M498.82 202.17L505.42 208.77M498.82 208.77L505.42 202.17" stroke="#8A3D9A" stroke-width="1.15" fill="none"/>
<polyline clip-path="url(#ci)" points="233.99,110.09 245.73,116.84 257.11,123.07 268.16,128.85 278.88,134.22 289.3,139.22 299.43,143.88 309.3,148.23 318.91,152.3 328.27,156.13 337.4,159.68 346.32,163.03 355.02,166.19 363.52,169.16 371.84,171.98 379.97,174.64 387.92,177.16 395.71,179.54 403.34,181.81 410.81,183.97 418.13,186.02 425.32,187.97 432.36,189.83 439.28,191.6 446.06,193.3 452.73,194.91 459.27,196.46 465.71,197.94 472.03,199.36 478.25,200.72 484.36,202.03 490.38,203.28 496.29,204.48 502.12,205.64" fill="none" stroke="#77AC30" stroke-width="1.5"/>
<polygon points="245.73,112.24 246.81,115.35 250.11,115.41 247.48,117.4 248.44,120.56 245.73,118.68 243.03,120.56 243.98,117.4 241.36,115.41 244.65,115.35" fill="none" stroke="#77AC30" stroke-width="1.45"/>
<polygon points="257.11,118.47 258.2,121.58 261.49,121.65 258.86,123.64 259.82,126.79 257.11,124.91 254.41,126.79 255.36,123.64 252.74,121.65 256.03,121.58" fill="none" stroke="#77AC30" stroke-width="1.45"/>
<polygon points="268.16,124.25 269.24,127.36 272.53,127.43 269.91,129.42 270.86,132.57 268.16,130.69 265.45,132.57 266.41,129.42 263.78,127.43 267.08,127.36" fill="none" stroke="#77AC30" stroke-width="1.45"/>
<polygon points="278.88,129.62 279.96,132.73 283.25,132.8 280.63,134.79 281.58,137.94 278.88,136.06 276.18,137.94 277.13,134.79 274.5,132.8 277.8,132.73" fill="none" stroke="#77AC30" stroke-width="1.45"/>
<polygon points="289.3,134.62 290.38,137.73 293.67,137.8 291.05,139.79 292,142.94 289.3,141.06 286.6,142.94 287.55,139.79 284.92,137.8 288.22,137.73" fill="none" stroke="#77AC30" stroke-width="1.45"/>
<polygon points="299.43,139.28 300.52,142.39 303.81,142.46 301.18,144.45 302.14,147.6 299.43,145.72 296.73,147.6 297.68,144.45 295.06,142.46 298.35,142.39" fill="none" stroke="#77AC30" stroke-width="1.45"/>
<polygon points="309.3,143.63 310.38,146.74 313.67,146.81 311.05,148.8 312,151.95 309.3,150.07 306.59,151.95 307.55,148.8 304.92,146.81 308.22,146.74" fill="none" stroke="#77AC30" stroke-width="1.45"/>
<polygon points="318.91,147.7 319.99,150.82 323.28,150.88 320.66,152.87 321.61,156.03 318.91,154.14 316.2,156.03 317.16,152.87 314.53,150.88 317.82,150.82" fill="none" stroke="#77AC30" stroke-width="1.45"/>
<polygon points="328.27,151.53 329.35,154.64 332.65,154.7 330.02,156.69 330.97,159.85 328.27,157.97 325.57,159.85 326.52,156.69 323.9,154.7 327.19,154.64" fill="none" stroke="#77AC30" stroke-width="1.45"/>
<polygon points="337.4,155.08 338.49,158.2 341.78,158.26 339.15,160.25 340.11,163.41 337.4,161.52 334.7,163.41 335.65,160.25 333.03,158.26 336.32,158.2" fill="none" stroke="#77AC30" stroke-width="1.45"/>
<polygon points="346.32,158.43 347.4,161.54 350.69,161.61 348.07,163.6 349.02,166.75 346.32,164.87 343.61,166.75 344.57,163.6 341.94,161.61 345.24,161.54" fill="none" stroke="#77AC30" stroke-width="1.45"/>
<polygon points="355.02,161.59 356.1,164.7 359.4,164.77 356.77,166.76 357.73,169.91 355.02,168.03 352.32,169.91 353.27,166.76 350.65,164.77 353.94,164.7" fill="none" stroke="#77AC30" stroke-width="1.45"/>
<polygon points="363.52,164.56 364.61,167.68 367.9,167.74 365.27,169.73 366.23,172.89 363.52,171 360.82,172.89 361.77,169.73 359.15,167.74 362.44,167.68" fill="none" stroke="#77AC30" stroke-width="1.45"/>
<polygon points="371.84,167.38 372.92,170.49 376.21,170.55 373.59,172.54 374.54,175.7 371.84,173.82 369.13,175.7 370.09,172.54 367.46,170.55 370.76,170.49" fill="none" stroke="#77AC30" stroke-width="1.45"/>
<polygon points="379.97,170.04 381.05,173.15 384.34,173.21 381.72,175.2 382.67,178.36 379.97,176.48 377.26,178.36 378.22,175.2 375.59,173.21 378.89,173.15" fill="none" stroke="#77AC30" stroke-width="1.45"/>
<polygon points="387.92,172.56 389,175.67 392.3,175.73 389.67,177.72 390.63,180.88 387.92,179 385.22,180.88 386.17,177.72 383.55,175.73 386.84,175.67" fill="none" stroke="#77AC30" stroke-width="1.45"/>
<polygon points="395.71,174.94 396.79,178.06 400.08,178.12 397.46,180.11 398.41,183.27 395.71,181.38 393.01,183.27 393.96,180.11 391.33,178.12 394.63,178.06" fill="none" stroke="#77AC30" stroke-width="1.45"/>
<polygon points="403.34,177.21 404.42,180.32 407.71,180.39 405.09,182.38 406.04,185.53 403.34,183.65 400.63,185.53 401.59,182.38 398.96,180.39 402.25,180.32" fill="none" stroke="#77AC30" stroke-width="1.45"/>
<polygon points="410.81,179.37 411.89,182.48 415.18,182.55 412.56,184.54 413.51,187.69 410.81,185.81 408.11,187.69 409.06,184.54 406.43,182.55 409.73,182.48" fill="none" stroke="#77AC30" stroke-width="1.45"/>
<polygon points="418.13,181.42 419.22,184.53 422.51,184.59 419.88,186.58 420.84,189.74 418.13,187.86 415.43,189.74 416.38,186.58 413.76,184.59 417.05,184.53" fill="none" stroke="#77AC30" stroke-width="1.45"/>
<polygon points="425.32,183.37 426.4,186.48 429.69,186.55 427.07,188.54 428.02,191.69 425.32,189.81 422.61,191.69 423.57,188.54 420.94,186.55 424.23,186.48" fill="none" stroke="#77AC30" stroke-width="1.45"/>
<polygon points="432.36,185.23 433.44,188.34 436.74,188.41 434.11,190.4 435.07,193.55 432.36,191.67 429.66,193.55 430.61,190.4 427.99,188.41 431.28,188.34" fill="none" stroke="#77AC30" stroke-width="1.45"/>
<polygon points="439.28,187 440.36,190.11 443.65,190.18 441.03,192.17 441.98,195.32 439.28,193.44 436.57,195.32 437.53,192.17 434.9,190.18 438.19,190.11" fill="none" stroke="#77AC30" stroke-width="1.45"/>
<polygon points="446.06,188.7 447.14,191.81 450.44,191.87 447.81,193.86 448.77,197.02 446.06,195.14 443.36,197.02 444.31,193.86 441.69,191.87 444.98,191.81" fill="none" stroke="#77AC30" stroke-width="1.45"/>
<polygon points="452.73,190.31 453.81,193.43 457.1,193.49 454.48,195.48 455.43,198.64 452.73,196.75 450.02,198.64 450.98,195.48 448.35,193.49 451.65,193.43" fill="none" stroke="#77AC30" stroke-width="1.45"/>
<polygon points="459.27,191.86 460.36,194.97 463.65,195.04 461.02,197.03 461.98,200.18 459.27,198.3 456.57,200.18 457.52,197.03 454.9,195.04 458.19,194.97" fill="none" stroke="#77AC30" stroke-width="1.45"/>
<polygon points="465.71,193.34 466.79,196.46 470.08,196.52 467.46,198.51 468.41,201.67 465.71,199.78 463,201.67 463.96,198.51 461.33,196.52 464.63,196.46" fill="none" stroke="#77AC30" stroke-width="1.45"/>
<polygon points="472.03,194.76 473.11,197.88 476.41,197.94 473.78,199.93 474.73,203.09 472.03,201.2 469.33,203.09 470.28,199.93 467.66,197.94 470.95,197.88" fill="none" stroke="#77AC30" stroke-width="1.45"/>
<polygon points="478.25,196.12 479.33,199.24 482.62,199.3 480,201.29 480.95,204.45 478.25,202.56 475.54,204.45 476.5,201.29 473.87,199.3 477.17,199.24" fill="none" stroke="#77AC30" stroke-width="1.45"/>
<polygon points="484.36,197.43 485.44,200.54 488.74,200.61 486.11,202.6 487.07,205.75 484.36,203.87 481.66,205.75 482.61,202.6 479.99,200.61 483.28,200.54" fill="none" stroke="#77AC30" stroke-width="1.45"/>
<polygon points="490.38,198.68 491.46,201.79 494.75,201.86 492.13,203.85 493.08,207 490.38,205.12 487.67,207 488.63,203.85 486,201.86 489.29,201.79" fill="none" stroke="#77AC30" stroke-width="1.45"/>
<polygon points="496.29,199.88 497.38,203 500.67,203.06 498.04,205.05 499,208.21 496.29,206.32 493.59,208.21 494.54,205.05 491.92,203.06 495.21,203" fill="none" stroke="#77AC30" stroke-width="1.45"/>
<polygon points="502.12,201.04 503.2,204.15 506.49,204.22 503.87,206.21 504.82,209.36 502.12,207.48 499.42,209.36 500.37,206.21 497.74,204.22 501.04,204.15" fill="none" stroke="#77AC30" stroke-width="1.45"/>
<polyline clip-path="url(#ci)" points="233.99,110.45 245.73,117.18 257.11,123.41 268.16,129.17 278.88,134.53 289.3,139.51 299.43,144.16 309.3,148.5 318.91,152.56 328.27,156.37 337.4,159.92 346.32,163.26 355.02,166.41 363.52,169.38 371.84,172.18 379.97,174.84 387.92,177.35 395.71,179.73 403.34,182 410.81,184.14 418.13,186.19 425.32,188.14 432.36,189.99 439.28,191.76 446.06,193.45 452.73,195.07 459.27,196.61 465.71,198.09 472.03,199.5 478.25,200.86 484.36,202.16 490.38,203.41 496.29,204.61 502.12,205.76" fill="none" stroke="#4DBEEE" stroke-width="1.5"/>
<path d="M240.93 117.18L250.53 117.18M245.73 112.38L245.73 121.98" stroke="#4DBEEE" stroke-width="1.25" fill="none"/>
<path d="M252.31 123.41L261.91 123.41M257.11 118.61L257.11 128.21" stroke="#4DBEEE" stroke-width="1.25" fill="none"/>
<path d="M263.36 129.17L272.96 129.17M268.16 124.37L268.16 133.97" stroke="#4DBEEE" stroke-width="1.25" fill="none"/>
<path d="M274.08 134.53L283.68 134.53M278.88 129.73L278.88 139.33" stroke="#4DBEEE" stroke-width="1.25" fill="none"/>
<path d="M284.5 139.51L294.1 139.51M289.3 134.71L289.3 144.31" stroke="#4DBEEE" stroke-width="1.25" fill="none"/>
<path d="M294.63 144.16L304.23 144.16M299.43 139.36L299.43 148.96" stroke="#4DBEEE" stroke-width="1.25" fill="none"/>
<path d="M304.5 148.5L314.1 148.5M309.3 143.7L309.3 153.3" stroke="#4DBEEE" stroke-width="1.25" fill="none"/>
<path d="M314.11 152.56L323.71 152.56M318.91 147.76L318.91 157.36" stroke="#4DBEEE" stroke-width="1.25" fill="none"/>
<path d="M323.47 156.37L333.07 156.37M328.27 151.57L328.27 161.17" stroke="#4DBEEE" stroke-width="1.25" fill="none"/>
<path d="M332.6 159.92L342.2 159.92M337.4 155.12L337.4 164.72" stroke="#4DBEEE" stroke-width="1.25" fill="none"/>
<path d="M341.52 163.26L351.12 163.26M346.32 158.46L346.32 168.06" stroke="#4DBEEE" stroke-width="1.25" fill="none"/>
<path d="M350.22 166.41L359.82 166.41M355.02 161.61L355.02 171.21" stroke="#4DBEEE" stroke-width="1.25" fill="none"/>
<path d="M358.72 169.38L368.32 169.38M363.52 164.58L363.52 174.18" stroke="#4DBEEE" stroke-width="1.25" fill="none"/>
<path d="M367.04 172.18L376.64 172.18M371.84 167.38L371.84 176.98" stroke="#4DBEEE" stroke-width="1.25" fill="none"/>
<path d="M375.17 174.84L384.77 174.84M379.97 170.04L379.97 179.64" stroke="#4DBEEE" stroke-width="1.25" fill="none"/>
<path d="M383.12 177.35L392.72 177.35M387.92 172.55L387.92 182.15" stroke="#4DBEEE" stroke-width="1.25" fill="none"/>
<path d="M390.91 179.73L400.51 179.73M395.71 174.93L395.71 184.53" stroke="#4DBEEE" stroke-width="1.25" fill="none"/>
<path d="M398.54 182L408.14 182M403.34 177.2L403.34 186.8" stroke="#4DBEEE" stroke-width="1.25" fill="none"/>
<path d="M406.01 184.14L415.61 184.14M410.81 179.34L410.81 188.94" stroke="#4DBEEE" stroke-width="1.25" fill="none"/>
<path d="M413.33 186.19L422.93 186.19M418.13 181.39L418.13 190.99" stroke="#4DBEEE" stroke-width="1.25" fill="none"/>
<path d="M420.52 188.14L430.12 188.14M425.32 183.34L425.32 192.94" stroke="#4DBEEE" stroke-width="1.25" fill="none"/>
<path d="M427.56 189.99L437.16 189.99M432.36 185.19L432.36 194.79" stroke="#4DBEEE" stroke-width="1.25" fill="none"/>
<path d="M434.48 191.76L444.08 191.76M439.28 186.96L439.28 196.56" stroke="#4DBEEE" stroke-width="1.25" fill="none"/>
<path d="M441.26 193.45L450.86 193.45M446.06 188.65L446.06 198.25" stroke="#4DBEEE" stroke-width="1.25" fill="none"/>
<path d="M447.93 195.07L457.53 195.07M452.73 190.27L452.73 199.87" stroke="#4DBEEE" stroke-width="1.25" fill="none"/>
<path d="M454.47 196.61L464.07 196.61M459.27 191.81L459.27 201.41" stroke="#4DBEEE" stroke-width="1.25" fill="none"/>
<path d="M460.91 198.09L470.51 198.09M465.71 193.29L465.71 202.89" stroke="#4DBEEE" stroke-width="1.25" fill="none"/>
<path d="M467.23 199.5L476.83 199.5M472.03 194.7L472.03 204.3" stroke="#4DBEEE" stroke-width="1.25" fill="none"/>
<path d="M473.45 200.86L483.05 200.86M478.25 196.06L478.25 205.66" stroke="#4DBEEE" stroke-width="1.25" fill="none"/>
<path d="M479.56 202.16L489.16 202.16M484.36 197.36L484.36 206.96" stroke="#4DBEEE" stroke-width="1.25" fill="none"/>
<path d="M485.58 203.41L495.18 203.41M490.38 198.61L490.38 208.21" stroke="#4DBEEE" stroke-width="1.25" fill="none"/>
<path d="M491.49 204.61L501.09 204.61M496.29 199.81L496.29 209.41" stroke="#4DBEEE" stroke-width="1.25" fill="none"/>
<path d="M497.32 205.76L506.92 205.76M502.12 200.96L502.12 210.56" stroke="#4DBEEE" stroke-width="1.25" fill="none"/>
<g font-family="'Liberation Serif', 'Times New Roman', serif"><text x="229.3" y="260.8" text-anchor="end" font-size="16.5" fill="#262626">0</text><text x="229.3" y="179.9" text-anchor="end" font-size="16.5" fill="#262626">5</text><text x="229.3" y="99" text-anchor="end" font-size="16.5" fill="#262626">10</text><text x="236.36" y="277.5" text-anchor="middle" font-size="17" fill="#262626">500</text><text x="303.8" y="277.5" text-anchor="middle" font-size="17" fill="#262626">600</text><text x="360.82" y="277.5" text-anchor="middle" font-size="17" fill="#262626">700</text><text x="410.21" y="277.5" text-anchor="middle" font-size="17" fill="#262626">800</text><text x="453.78" y="277.5" text-anchor="middle" font-size="17" fill="#262626">900</text><text x="492.75" y="277.5" text-anchor="middle" font-size="17" fill="#262626">1000</text></g>
<g font-family="'Liberation Serif', 'Times New Roman', serif"><text x="241.9" y="23.2" font-size="19" fill="#000" font-style="italic">δ</text><text x="254.7" y="23.2" font-size="19" fill="#000">=</text><text x="271.1 280.0 285.5 295.0" y="23.2" font-size="19" fill="#000">0.2,</text><text x="305.5" y="23.2" font-size="19" fill="#000" font-style="italic">γ</text><text x="315.3 326.1 336.4 346.0" y="23.2" font-size="19" fill="#000">=0dB</text></g>
<text x="300.6" y="446.5" text-anchor="middle" font-size="18.7" fill="#262626" font-family="'Liberation Serif', 'Times New Roman', serif">N</text>
<text transform="translate(25.6 213.4) rotate(-90)" text-anchor="middle" font-size="19" fill="#262626" font-family="'Liberation Serif', 'Times New Roman', serif">RMSE(Hz)</text>
</svg>
</body></html>
